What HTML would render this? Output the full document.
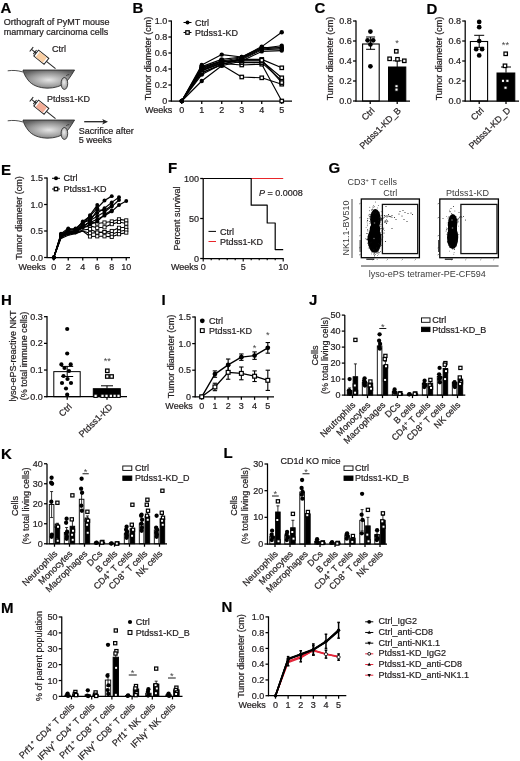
<!DOCTYPE html>
<html><head><meta charset="utf-8"><title>Figure</title>
<style>html,body{margin:0;padding:0;background:#fff}svg{display:block}text{font-family:"Liberation Sans",Arial,Helvetica,sans-serif;stroke:#231f20;stroke-width:0.22px}</style>
</head><body>
<svg width="520" height="761" viewBox="0 0 520 761">
<defs>
<radialGradient id="mg" cx="0.5" cy="0.55" r="0.6"><stop offset="0" stop-color="#e6e6e6"/><stop offset="0.6" stop-color="#9a9a9a"/><stop offset="1" stop-color="#5e5e5e"/></radialGradient>
<radialGradient id="eg" cx="0.45" cy="0.4" r="0.7"><stop offset="0" stop-color="#efefef"/><stop offset="1" stop-color="#8a8a8a"/></radialGradient>
</defs>
<rect width="520" height="761" fill="#fff"/>
<text x="0.50" y="12.90" font-size="15" font-weight="bold" fill="#000">A</text>
<text x="3.70" y="24.60" font-size="9.0" fill="#231f20">Orthograft of PyMT mouse</text>
<text x="3.70" y="35.20" font-size="9.0" fill="#231f20">mammary carcinoma cells</text>
<text x="52.00" y="52.00" font-size="9.0" fill="#231f20">Ctrl</text>
<text x="47.00" y="102.20" font-size="9.0" fill="#231f20">Ptdss1-KD</text>
<g transform="translate(0 0)">
<path d="M7.7 70.8 C13 70.2 17 70.2 23 72" fill="none" stroke="#222" stroke-width="0.8"/>
<path d="M23 70 L74.6 70 C72 74 70 78 66 82 C58 90 36 91 28 80 C25 76 23.5 73 23 70 Z" fill="url(#mg)" stroke="#222" stroke-width="0.8"/>
<ellipse cx="64.4" cy="83.5" rx="3.3" ry="6" fill="url(#eg)" stroke="#222" stroke-width="0.8"/>
<path d="M66.2 75.7 q1.2 -1 3 -1.1" fill="none" stroke="#222" stroke-width="0.7"/>
<g transform="translate(41.3 57.2) rotate(38.8)">
<rect x="-6.6" y="-3.8" width="13.2" height="7.6" fill="#fff" stroke="#222" stroke-width="1"/>
<rect x="-4.6" y="-3.3" width="9.2" height="6.6" fill="#f9cfa4"/>
<line x1="-6.6" y1="0" x2="-12.6" y2="0" stroke="#222" stroke-width="1"/>
<line x1="-12.6" y1="-2.8" x2="-12.6" y2="2.8" stroke="#222" stroke-width="1"/>
<line x1="-8.2" y1="-2.6" x2="-8.2" y2="2.6" stroke="#222" stroke-width="1"/>
<line x1="6.6" y1="0" x2="18.2" y2="0" stroke="#222" stroke-width="1"/>
</g>
</g>
<g transform="translate(0 50)">
<path d="M7.7 70.8 C13 70.2 17 70.2 23 72" fill="none" stroke="#222" stroke-width="0.8"/>
<path d="M23 70 L74.6 70 C72 74 70 78 66 82 C58 90 36 91 28 80 C25 76 23.5 73 23 70 Z" fill="url(#mg)" stroke="#222" stroke-width="0.8"/>
<ellipse cx="64.4" cy="83.5" rx="3.3" ry="6" fill="url(#eg)" stroke="#222" stroke-width="0.8"/>
<path d="M66.2 75.7 q1.2 -1 3 -1.1" fill="none" stroke="#222" stroke-width="0.7"/>
<g transform="translate(41.3 57.2) rotate(38.8)">
<rect x="-6.6" y="-3.8" width="13.2" height="7.6" fill="#fff" stroke="#222" stroke-width="1"/>
<rect x="-4.6" y="-3.3" width="9.2" height="6.6" fill="#f3ad97"/>
<line x1="-6.6" y1="0" x2="-12.6" y2="0" stroke="#222" stroke-width="1"/>
<line x1="-12.6" y1="-2.8" x2="-12.6" y2="2.8" stroke="#222" stroke-width="1"/>
<line x1="-8.2" y1="-2.6" x2="-8.2" y2="2.6" stroke="#222" stroke-width="1"/>
<line x1="6.6" y1="0" x2="18.2" y2="0" stroke="#222" stroke-width="1"/>
</g>
</g>
<line x1="84.20" y1="121.70" x2="104.00" y2="121.70" stroke="#222" stroke-width="1.3"/>
<path d="M108 121.7 L102.2 118.9 L103.6 121.7 L102.2 124.5 Z" fill="#222"/>
<text x="78.70" y="133.60" font-size="9.0" fill="#231f20">Sacrifice after</text>
<text x="78.70" y="143.40" font-size="9.0" fill="#231f20">5 weeks</text>
<text x="132.50" y="12.60" font-size="15" font-weight="bold" fill="#000">B</text>
<line x1="171.40" y1="20.50" x2="171.40" y2="101.50" stroke="#000" stroke-width="1.25"/>
<line x1="170.90" y1="101.00" x2="292.00" y2="101.00" stroke="#000" stroke-width="1.25"/>
<line x1="168.40" y1="101.00" x2="171.40" y2="101.00" stroke="#000" stroke-width="1.25"/>
<text x="167.20" y="104.10" font-size="9.0" text-anchor="end" fill="#231f20">0</text>
<line x1="168.40" y1="85.00" x2="171.40" y2="85.00" stroke="#000" stroke-width="1.25"/>
<text x="167.20" y="88.10" font-size="9.0" text-anchor="end" fill="#231f20">0.2</text>
<line x1="168.40" y1="69.00" x2="171.40" y2="69.00" stroke="#000" stroke-width="1.25"/>
<text x="167.20" y="72.10" font-size="9.0" text-anchor="end" fill="#231f20">0.4</text>
<line x1="168.40" y1="53.00" x2="171.40" y2="53.00" stroke="#000" stroke-width="1.25"/>
<text x="167.20" y="56.10" font-size="9.0" text-anchor="end" fill="#231f20">0.6</text>
<line x1="168.40" y1="37.00" x2="171.40" y2="37.00" stroke="#000" stroke-width="1.25"/>
<text x="167.20" y="40.10" font-size="9.0" text-anchor="end" fill="#231f20">0.8</text>
<line x1="168.40" y1="21.00" x2="171.40" y2="21.00" stroke="#000" stroke-width="1.25"/>
<text x="167.20" y="24.10" font-size="9.0" text-anchor="end" fill="#231f20">1.0</text>
<line x1="181.75" y1="101.00" x2="181.75" y2="104.00" stroke="#000" stroke-width="1.25"/>
<text x="181.75" y="113.20" font-size="9.0" text-anchor="middle" fill="#231f20">0</text>
<line x1="201.75" y1="101.00" x2="201.75" y2="104.00" stroke="#000" stroke-width="1.25"/>
<text x="201.75" y="113.20" font-size="9.0" text-anchor="middle" fill="#231f20">1</text>
<line x1="221.75" y1="101.00" x2="221.75" y2="104.00" stroke="#000" stroke-width="1.25"/>
<text x="221.75" y="113.20" font-size="9.0" text-anchor="middle" fill="#231f20">2</text>
<line x1="241.75" y1="101.00" x2="241.75" y2="104.00" stroke="#000" stroke-width="1.25"/>
<text x="241.75" y="113.20" font-size="9.0" text-anchor="middle" fill="#231f20">3</text>
<line x1="261.75" y1="101.00" x2="261.75" y2="104.00" stroke="#000" stroke-width="1.25"/>
<text x="261.75" y="113.20" font-size="9.0" text-anchor="middle" fill="#231f20">4</text>
<line x1="281.75" y1="101.00" x2="281.75" y2="104.00" stroke="#000" stroke-width="1.25"/>
<text x="281.75" y="113.20" font-size="9.0" text-anchor="middle" fill="#231f20">5</text>
<text x="150.80" y="58.50" font-size="9.0" text-anchor="middle" transform="rotate(-90 150.80 58.50)" fill="#231f20">Tumor diameter (cm)</text>
<text x="145.00" y="113.20" font-size="9.0" fill="#231f20">Weeks</text>
<polyline points="181.75,101.00 201.75,72.20 221.75,65.00 241.75,77.00 261.75,77.80 281.75,84.20" fill="none" stroke="#000" stroke-width="1.15" stroke-linejoin="round"/>
<polyline points="181.75,101.00 201.75,70.60 221.75,63.40 241.75,65.00 261.75,64.20 281.75,101.00" fill="none" stroke="#000" stroke-width="1.15" stroke-linejoin="round"/>
<polyline points="181.75,101.00 201.75,69.00 221.75,61.00 241.75,62.60 261.75,62.60 281.75,80.60" fill="none" stroke="#000" stroke-width="1.15" stroke-linejoin="round"/>
<polyline points="181.75,101.00 201.75,67.40 221.75,61.00 241.75,61.00 261.75,61.00 281.75,77.80" fill="none" stroke="#000" stroke-width="1.15" stroke-linejoin="round"/>
<polyline points="181.75,101.00 201.75,73.00 221.75,64.20 241.75,59.40 261.75,59.40 281.75,67.80" fill="none" stroke="#000" stroke-width="1.15" stroke-linejoin="round"/>
<polyline points="181.75,101.00 201.75,69.80 221.75,61.80 241.75,60.20 261.75,60.20 281.75,82.60" fill="none" stroke="#000" stroke-width="1.15" stroke-linejoin="round"/>
<rect x="200.03" y="70.48" width="3.45" height="3.45" fill="#fff" stroke="#000" stroke-width="1.25"/>
<rect x="220.03" y="63.27" width="3.45" height="3.45" fill="#fff" stroke="#000" stroke-width="1.25"/>
<rect x="240.03" y="75.28" width="3.45" height="3.45" fill="#fff" stroke="#000" stroke-width="1.25"/>
<rect x="260.02" y="76.08" width="3.45" height="3.45" fill="#fff" stroke="#000" stroke-width="1.25"/>
<rect x="280.02" y="82.48" width="3.45" height="3.45" fill="#fff" stroke="#000" stroke-width="1.25"/>
<rect x="200.03" y="68.88" width="3.45" height="3.45" fill="#fff" stroke="#000" stroke-width="1.25"/>
<rect x="220.03" y="61.68" width="3.45" height="3.45" fill="#fff" stroke="#000" stroke-width="1.25"/>
<rect x="240.03" y="63.27" width="3.45" height="3.45" fill="#fff" stroke="#000" stroke-width="1.25"/>
<rect x="260.02" y="62.47" width="3.45" height="3.45" fill="#fff" stroke="#000" stroke-width="1.25"/>
<rect x="280.02" y="99.28" width="3.45" height="3.45" fill="#fff" stroke="#000" stroke-width="1.25"/>
<rect x="200.03" y="67.28" width="3.45" height="3.45" fill="#fff" stroke="#000" stroke-width="1.25"/>
<rect x="220.03" y="59.27" width="3.45" height="3.45" fill="#fff" stroke="#000" stroke-width="1.25"/>
<rect x="240.03" y="60.88" width="3.45" height="3.45" fill="#fff" stroke="#000" stroke-width="1.25"/>
<rect x="260.02" y="60.88" width="3.45" height="3.45" fill="#fff" stroke="#000" stroke-width="1.25"/>
<rect x="280.02" y="78.88" width="3.45" height="3.45" fill="#fff" stroke="#000" stroke-width="1.25"/>
<rect x="200.03" y="65.68" width="3.45" height="3.45" fill="#fff" stroke="#000" stroke-width="1.25"/>
<rect x="220.03" y="59.27" width="3.45" height="3.45" fill="#fff" stroke="#000" stroke-width="1.25"/>
<rect x="240.03" y="59.27" width="3.45" height="3.45" fill="#fff" stroke="#000" stroke-width="1.25"/>
<rect x="260.02" y="59.27" width="3.45" height="3.45" fill="#fff" stroke="#000" stroke-width="1.25"/>
<rect x="280.02" y="76.08" width="3.45" height="3.45" fill="#fff" stroke="#000" stroke-width="1.25"/>
<rect x="200.03" y="71.28" width="3.45" height="3.45" fill="#fff" stroke="#000" stroke-width="1.25"/>
<rect x="220.03" y="62.47" width="3.45" height="3.45" fill="#fff" stroke="#000" stroke-width="1.25"/>
<rect x="240.03" y="57.67" width="3.45" height="3.45" fill="#fff" stroke="#000" stroke-width="1.25"/>
<rect x="260.02" y="57.67" width="3.45" height="3.45" fill="#fff" stroke="#000" stroke-width="1.25"/>
<rect x="280.02" y="66.08" width="3.45" height="3.45" fill="#fff" stroke="#000" stroke-width="1.25"/>
<rect x="200.03" y="68.08" width="3.45" height="3.45" fill="#fff" stroke="#000" stroke-width="1.25"/>
<rect x="220.03" y="60.07" width="3.45" height="3.45" fill="#fff" stroke="#000" stroke-width="1.25"/>
<rect x="240.03" y="58.48" width="3.45" height="3.45" fill="#fff" stroke="#000" stroke-width="1.25"/>
<rect x="260.02" y="58.48" width="3.45" height="3.45" fill="#fff" stroke="#000" stroke-width="1.25"/>
<rect x="280.02" y="80.88" width="3.45" height="3.45" fill="#fff" stroke="#000" stroke-width="1.25"/>
<polyline points="181.75,101.00 201.75,81.00 221.75,65.80 241.75,61.00 261.75,51.40 281.75,50.60" fill="none" stroke="#000" stroke-width="1.15" stroke-linejoin="round"/>
<circle cx="181.75" cy="101.00" r="2.2" fill="#000"/>
<circle cx="201.75" cy="81.00" r="2.2" fill="#000"/>
<circle cx="221.75" cy="65.80" r="2.2" fill="#000"/>
<circle cx="241.75" cy="61.00" r="2.2" fill="#000"/>
<circle cx="261.75" cy="51.40" r="2.2" fill="#000"/>
<circle cx="281.75" cy="50.60" r="2.2" fill="#000"/>
<polyline points="181.75,101.00 201.75,74.60 221.75,64.20 241.75,59.40 261.75,49.80 281.75,49.00" fill="none" stroke="#000" stroke-width="1.15" stroke-linejoin="round"/>
<circle cx="181.75" cy="101.00" r="2.2" fill="#000"/>
<circle cx="201.75" cy="74.60" r="2.2" fill="#000"/>
<circle cx="221.75" cy="64.20" r="2.2" fill="#000"/>
<circle cx="241.75" cy="59.40" r="2.2" fill="#000"/>
<circle cx="261.75" cy="49.80" r="2.2" fill="#000"/>
<circle cx="281.75" cy="49.00" r="2.2" fill="#000"/>
<polyline points="181.75,101.00 201.75,70.60 221.75,62.60 241.75,58.60 261.75,49.00 281.75,47.40" fill="none" stroke="#000" stroke-width="1.15" stroke-linejoin="round"/>
<circle cx="181.75" cy="101.00" r="2.2" fill="#000"/>
<circle cx="201.75" cy="70.60" r="2.2" fill="#000"/>
<circle cx="221.75" cy="62.60" r="2.2" fill="#000"/>
<circle cx="241.75" cy="58.60" r="2.2" fill="#000"/>
<circle cx="261.75" cy="49.00" r="2.2" fill="#000"/>
<circle cx="281.75" cy="47.40" r="2.2" fill="#000"/>
<polyline points="181.75,101.00 201.75,68.20 221.75,61.00 241.75,57.80 261.75,48.20 281.75,45.80" fill="none" stroke="#000" stroke-width="1.15" stroke-linejoin="round"/>
<circle cx="181.75" cy="101.00" r="2.2" fill="#000"/>
<circle cx="201.75" cy="68.20" r="2.2" fill="#000"/>
<circle cx="221.75" cy="61.00" r="2.2" fill="#000"/>
<circle cx="241.75" cy="57.80" r="2.2" fill="#000"/>
<circle cx="261.75" cy="48.20" r="2.2" fill="#000"/>
<circle cx="281.75" cy="45.80" r="2.2" fill="#000"/>
<polyline points="181.75,101.00 201.75,66.60 221.75,59.40 241.75,57.00 261.75,47.40 281.75,48.20" fill="none" stroke="#000" stroke-width="1.15" stroke-linejoin="round"/>
<circle cx="181.75" cy="101.00" r="2.2" fill="#000"/>
<circle cx="201.75" cy="66.60" r="2.2" fill="#000"/>
<circle cx="221.75" cy="59.40" r="2.2" fill="#000"/>
<circle cx="241.75" cy="57.00" r="2.2" fill="#000"/>
<circle cx="261.75" cy="47.40" r="2.2" fill="#000"/>
<circle cx="281.75" cy="48.20" r="2.2" fill="#000"/>
<polyline points="181.75,101.00 201.75,65.00 221.75,54.60 241.75,57.00 261.75,46.60 281.75,32.20" fill="none" stroke="#000" stroke-width="1.15" stroke-linejoin="round"/>
<circle cx="181.75" cy="101.00" r="2.2" fill="#000"/>
<circle cx="201.75" cy="65.00" r="2.2" fill="#000"/>
<circle cx="221.75" cy="54.60" r="2.2" fill="#000"/>
<circle cx="241.75" cy="57.00" r="2.2" fill="#000"/>
<circle cx="261.75" cy="46.60" r="2.2" fill="#000"/>
<circle cx="281.75" cy="32.20" r="2.2" fill="#000"/>
<line x1="183.50" y1="22.50" x2="191.50" y2="22.50" stroke="#000" stroke-width="1"/>
<circle cx="187.50" cy="22.50" r="2" fill="#000"/>
<text x="195.00" y="25.60" font-size="9.0" fill="#231f20">Ctrl</text>
<line x1="183.50" y1="32.50" x2="191.50" y2="32.50" stroke="#000" stroke-width="1"/>
<rect x="185.78" y="30.77" width="3.45" height="3.45" fill="#fff" stroke="#000" stroke-width="1.25"/>
<text x="195.00" y="35.70" font-size="9.0" fill="#231f20">Ptdss1-KD</text>
<text x="314.50" y="12.60" font-size="15" font-weight="bold" fill="#000">C</text>
<rect x="362.60" y="44.00" width="16.60" height="57.00" fill="#fff" stroke="#000" stroke-width="1.1"/>
<rect x="388.50" y="67.00" width="17.30" height="34.00" fill="#000" stroke="#000" stroke-width="1"/>
<line x1="356.00" y1="20.50" x2="356.00" y2="101.50" stroke="#000" stroke-width="1.25"/>
<line x1="355.50" y1="101.00" x2="410.00" y2="101.00" stroke="#000" stroke-width="1.25"/>
<line x1="353.00" y1="101.00" x2="356.00" y2="101.00" stroke="#000" stroke-width="1.25"/>
<text x="351.80" y="104.10" font-size="9.0" text-anchor="end" fill="#231f20">0.0</text>
<line x1="353.00" y1="81.00" x2="356.00" y2="81.00" stroke="#000" stroke-width="1.25"/>
<text x="351.80" y="84.10" font-size="9.0" text-anchor="end" fill="#231f20">0.2</text>
<line x1="353.00" y1="61.00" x2="356.00" y2="61.00" stroke="#000" stroke-width="1.25"/>
<text x="351.80" y="64.10" font-size="9.0" text-anchor="end" fill="#231f20">0.4</text>
<line x1="353.00" y1="41.00" x2="356.00" y2="41.00" stroke="#000" stroke-width="1.25"/>
<text x="351.80" y="44.10" font-size="9.0" text-anchor="end" fill="#231f20">0.6</text>
<line x1="353.00" y1="21.00" x2="356.00" y2="21.00" stroke="#000" stroke-width="1.25"/>
<text x="351.80" y="24.10" font-size="9.0" text-anchor="end" fill="#231f20">0.8</text>
<line x1="370.20" y1="101.00" x2="370.20" y2="104.00" stroke="#000" stroke-width="1.25"/>
<line x1="397.20" y1="101.00" x2="397.20" y2="104.00" stroke="#000" stroke-width="1.25"/>
<text x="333.20" y="58.50" font-size="9.0" text-anchor="middle" transform="rotate(-90 333.20 58.50)" fill="#231f20">Tumor diameter (cm)</text>
<line x1="370.60" y1="37.00" x2="370.60" y2="49.30" stroke="#000" stroke-width="1"/>
<line x1="366.10" y1="37.00" x2="375.10" y2="37.00" stroke="#000" stroke-width="1"/>
<line x1="366.10" y1="49.30" x2="375.10" y2="49.30" stroke="#000" stroke-width="1"/>
<line x1="397.20" y1="60.80" x2="397.20" y2="67.00" stroke="#000" stroke-width="1"/>
<line x1="392.70" y1="60.80" x2="401.70" y2="60.80" stroke="#000" stroke-width="1"/>
<circle cx="370.40" cy="31.60" r="2.35" fill="#000"/>
<circle cx="367.60" cy="40.30" r="2.35" fill="#000"/>
<circle cx="373.20" cy="40.30" r="2.35" fill="#000"/>
<circle cx="370.40" cy="44.50" r="2.35" fill="#000"/>
<circle cx="370.40" cy="66.30" r="2.35" fill="#000"/>
<rect x="394.57" y="49.57" width="3.45" height="3.45" fill="#fff" stroke="#000" stroke-width="1.25"/>
<rect x="387.88" y="57.07" width="3.45" height="3.45" fill="#fff" stroke="#000" stroke-width="1.25"/>
<rect x="395.77" y="57.57" width="3.45" height="3.45" fill="#fff" stroke="#000" stroke-width="1.25"/>
<rect x="402.57" y="59.07" width="3.45" height="3.45" fill="#fff" stroke="#000" stroke-width="1.25"/>
<rect x="394.90" y="84.70" width="3.2" height="3.2" fill="#fff" stroke="#000" stroke-width="1.0"/>
<rect x="394.90" y="88.00" width="3.2" height="3.2" fill="#fff" stroke="#000" stroke-width="1.0"/>
<text x="397.00" y="45.80" font-size="9.4" text-anchor="middle" fill="#444" style="stroke:none">*</text>
<text x="375.20" y="111.20" font-size="9.0" text-anchor="end" transform="rotate(-45 375.20 111.20)" fill="#231f20">Ctrl</text>
<text x="401.50" y="111.20" font-size="9.0" text-anchor="end" transform="rotate(-45 401.50 111.20)" fill="#231f20">Ptdss1-KD_B</text>
<text x="426.50" y="13.70" font-size="15" font-weight="bold" fill="#000">D</text>
<rect x="470.40" y="41.50" width="17.20" height="59.50" fill="#fff" stroke="#000" stroke-width="1.1"/>
<rect x="497.00" y="73.00" width="17.80" height="28.00" fill="#000" stroke="#000" stroke-width="1"/>
<line x1="465.20" y1="20.50" x2="465.20" y2="101.50" stroke="#000" stroke-width="1.25"/>
<line x1="464.70" y1="101.00" x2="519.00" y2="101.00" stroke="#000" stroke-width="1.25"/>
<line x1="462.20" y1="101.00" x2="465.20" y2="101.00" stroke="#000" stroke-width="1.25"/>
<text x="461.00" y="104.10" font-size="9.0" text-anchor="end" fill="#231f20">0.0</text>
<line x1="462.20" y1="81.00" x2="465.20" y2="81.00" stroke="#000" stroke-width="1.25"/>
<text x="461.00" y="84.10" font-size="9.0" text-anchor="end" fill="#231f20">0.2</text>
<line x1="462.20" y1="61.00" x2="465.20" y2="61.00" stroke="#000" stroke-width="1.25"/>
<text x="461.00" y="64.10" font-size="9.0" text-anchor="end" fill="#231f20">0.4</text>
<line x1="462.20" y1="41.00" x2="465.20" y2="41.00" stroke="#000" stroke-width="1.25"/>
<text x="461.00" y="44.10" font-size="9.0" text-anchor="end" fill="#231f20">0.6</text>
<line x1="462.20" y1="21.00" x2="465.20" y2="21.00" stroke="#000" stroke-width="1.25"/>
<text x="461.00" y="24.10" font-size="9.0" text-anchor="end" fill="#231f20">0.8</text>
<line x1="479.20" y1="101.00" x2="479.20" y2="104.00" stroke="#000" stroke-width="1.25"/>
<line x1="506.00" y1="101.00" x2="506.00" y2="104.00" stroke="#000" stroke-width="1.25"/>
<text x="442.40" y="58.50" font-size="9.0" text-anchor="middle" transform="rotate(-90 442.40 58.50)" fill="#231f20">Tumor diameter (cm)</text>
<line x1="479.20" y1="35.30" x2="479.20" y2="47.30" stroke="#000" stroke-width="1"/>
<line x1="474.20" y1="35.30" x2="484.20" y2="35.30" stroke="#000" stroke-width="1"/>
<line x1="474.20" y1="47.30" x2="484.20" y2="47.30" stroke="#000" stroke-width="1"/>
<line x1="506.00" y1="67.00" x2="506.00" y2="72.70" stroke="#000" stroke-width="1"/>
<line x1="501.00" y1="67.00" x2="511.00" y2="67.00" stroke="#000" stroke-width="1"/>
<circle cx="479.20" cy="21.90" r="2.35" fill="#000"/>
<circle cx="479.20" cy="27.20" r="2.35" fill="#000"/>
<circle cx="479.20" cy="41.00" r="2.35" fill="#000"/>
<circle cx="476.20" cy="49.20" r="2.35" fill="#000"/>
<circle cx="482.10" cy="49.20" r="2.35" fill="#000"/>
<circle cx="479.20" cy="55.40" r="2.35" fill="#000"/>
<rect x="503.97" y="52.07" width="3.45" height="3.45" fill="#fff" stroke="#000" stroke-width="1.25"/>
<rect x="503.27" y="64.08" width="3.45" height="3.45" fill="#fff" stroke="#000" stroke-width="1.25"/>
<rect x="501.40" y="79.20" width="3.2" height="3.2" fill="#fff" stroke="#000" stroke-width="1.0"/>
<rect x="505.80" y="79.20" width="3.2" height="3.2" fill="#fff" stroke="#000" stroke-width="1.0"/>
<rect x="503.90" y="86.10" width="3.2" height="3.2" fill="#fff" stroke="#000" stroke-width="1.0"/>
<text x="505.50" y="47.80" font-size="9.4" text-anchor="middle" fill="#444" style="stroke:none">**</text>
<text x="484.50" y="111.00" font-size="9.0" text-anchor="end" transform="rotate(-45 484.50 111.00)" fill="#231f20">Ctrl</text>
<text x="511.00" y="111.00" font-size="9.0" text-anchor="end" transform="rotate(-45 511.00 111.00)" fill="#231f20">Ptdss1-KD_D</text>
<text x="1.00" y="175.00" font-size="15" font-weight="bold" fill="#000">E</text>
<line x1="47.10" y1="177.50" x2="47.10" y2="258.00" stroke="#000" stroke-width="1.25"/>
<line x1="46.60" y1="257.50" x2="130.00" y2="257.50" stroke="#000" stroke-width="1.25"/>
<line x1="44.10" y1="257.50" x2="47.10" y2="257.50" stroke="#000" stroke-width="1.25"/>
<text x="42.90" y="260.60" font-size="9.0" text-anchor="end" fill="#231f20">0.0</text>
<line x1="44.10" y1="231.00" x2="47.10" y2="231.00" stroke="#000" stroke-width="1.25"/>
<text x="42.90" y="234.10" font-size="9.0" text-anchor="end" fill="#231f20">0.5</text>
<line x1="44.10" y1="204.50" x2="47.10" y2="204.50" stroke="#000" stroke-width="1.25"/>
<text x="42.90" y="207.60" font-size="9.0" text-anchor="end" fill="#231f20">1.0</text>
<line x1="44.10" y1="178.00" x2="47.10" y2="178.00" stroke="#000" stroke-width="1.25"/>
<text x="42.90" y="181.10" font-size="9.0" text-anchor="end" fill="#231f20">1.5</text>
<line x1="53.75" y1="257.50" x2="53.75" y2="260.50" stroke="#000" stroke-width="1.25"/>
<text x="53.75" y="269.70" font-size="9.0" text-anchor="middle" fill="#231f20">0</text>
<line x1="68.25" y1="257.50" x2="68.25" y2="260.50" stroke="#000" stroke-width="1.25"/>
<text x="68.25" y="269.70" font-size="9.0" text-anchor="middle" fill="#231f20">2</text>
<line x1="82.75" y1="257.50" x2="82.75" y2="260.50" stroke="#000" stroke-width="1.25"/>
<text x="82.75" y="269.70" font-size="9.0" text-anchor="middle" fill="#231f20">4</text>
<line x1="97.25" y1="257.50" x2="97.25" y2="260.50" stroke="#000" stroke-width="1.25"/>
<text x="97.25" y="269.70" font-size="9.0" text-anchor="middle" fill="#231f20">6</text>
<line x1="111.75" y1="257.50" x2="111.75" y2="260.50" stroke="#000" stroke-width="1.25"/>
<text x="111.75" y="269.70" font-size="9.0" text-anchor="middle" fill="#231f20">8</text>
<line x1="126.25" y1="257.50" x2="126.25" y2="260.50" stroke="#000" stroke-width="1.25"/>
<text x="126.25" y="269.70" font-size="9.0" text-anchor="middle" fill="#231f20">10</text>
<text x="22.00" y="218.00" font-size="9.0" text-anchor="middle" transform="rotate(-90 22.00 218.00)" fill="#231f20">Tumor diameter (cm)</text>
<text x="18.40" y="269.70" font-size="9.0" fill="#231f20">Weeks</text>
<polyline points="53.75,257.50 61.00,235.24 68.25,231.00 75.50,231.00 82.75,226.76 90.00,221.78 97.25,223.58 104.50,222.52 111.75,221.46 119.00,219.34 126.25,220.40" fill="none" stroke="#000" stroke-width="1.1" stroke-linejoin="round"/>
<polyline points="53.75,257.50 61.00,236.30 68.25,233.12 75.50,231.00 82.75,227.82 90.00,225.86 97.25,227.82 104.50,227.29 111.75,224.11 119.00,221.99 126.25,223.58" fill="none" stroke="#000" stroke-width="1.1" stroke-linejoin="round"/>
<polyline points="53.75,257.50 61.00,237.36 68.25,234.18 75.50,232.59 82.75,229.94 90.00,229.15 97.25,232.59 104.50,232.06 111.75,231.00 119.00,227.82 126.25,227.29" fill="none" stroke="#000" stroke-width="1.1" stroke-linejoin="round"/>
<polyline points="53.75,257.50 61.00,235.77 68.25,233.65 75.50,233.12 82.75,231.00 90.00,233.23 97.25,232.59 104.50,232.06 111.75,234.18 119.00,231.53 126.25,229.94" fill="none" stroke="#000" stroke-width="1.1" stroke-linejoin="round"/>
<polyline points="53.75,257.50 61.00,238.42 68.25,235.24 75.50,233.65 82.75,231.00 90.00,236.46 97.25,236.30 104.50,236.30 111.75,236.83 119.00,234.18 126.25,232.59" fill="none" stroke="#000" stroke-width="1.1" stroke-linejoin="round"/>
<rect x="88.40" y="220.18" width="3.2" height="3.2" fill="#fff" stroke="#000" stroke-width="0.9"/>
<rect x="95.65" y="221.98" width="3.2" height="3.2" fill="#fff" stroke="#000" stroke-width="0.9"/>
<rect x="102.90" y="220.92" width="3.2" height="3.2" fill="#fff" stroke="#000" stroke-width="0.9"/>
<rect x="110.15" y="219.86" width="3.2" height="3.2" fill="#fff" stroke="#000" stroke-width="0.9"/>
<rect x="117.40" y="217.74" width="3.2" height="3.2" fill="#fff" stroke="#000" stroke-width="0.9"/>
<rect x="124.65" y="218.80" width="3.2" height="3.2" fill="#fff" stroke="#000" stroke-width="0.9"/>
<rect x="88.40" y="224.26" width="3.2" height="3.2" fill="#fff" stroke="#000" stroke-width="0.9"/>
<rect x="95.65" y="226.22" width="3.2" height="3.2" fill="#fff" stroke="#000" stroke-width="0.9"/>
<rect x="102.90" y="225.69" width="3.2" height="3.2" fill="#fff" stroke="#000" stroke-width="0.9"/>
<rect x="110.15" y="222.51" width="3.2" height="3.2" fill="#fff" stroke="#000" stroke-width="0.9"/>
<rect x="117.40" y="220.39" width="3.2" height="3.2" fill="#fff" stroke="#000" stroke-width="0.9"/>
<rect x="124.65" y="221.98" width="3.2" height="3.2" fill="#fff" stroke="#000" stroke-width="0.9"/>
<rect x="88.40" y="227.55" width="3.2" height="3.2" fill="#fff" stroke="#000" stroke-width="0.9"/>
<rect x="95.65" y="230.99" width="3.2" height="3.2" fill="#fff" stroke="#000" stroke-width="0.9"/>
<rect x="102.90" y="230.46" width="3.2" height="3.2" fill="#fff" stroke="#000" stroke-width="0.9"/>
<rect x="110.15" y="229.40" width="3.2" height="3.2" fill="#fff" stroke="#000" stroke-width="0.9"/>
<rect x="117.40" y="226.22" width="3.2" height="3.2" fill="#fff" stroke="#000" stroke-width="0.9"/>
<rect x="124.65" y="225.69" width="3.2" height="3.2" fill="#fff" stroke="#000" stroke-width="0.9"/>
<rect x="88.40" y="231.63" width="3.2" height="3.2" fill="#fff" stroke="#000" stroke-width="0.9"/>
<rect x="95.65" y="230.99" width="3.2" height="3.2" fill="#fff" stroke="#000" stroke-width="0.9"/>
<rect x="102.90" y="230.46" width="3.2" height="3.2" fill="#fff" stroke="#000" stroke-width="0.9"/>
<rect x="110.15" y="232.58" width="3.2" height="3.2" fill="#fff" stroke="#000" stroke-width="0.9"/>
<rect x="117.40" y="229.93" width="3.2" height="3.2" fill="#fff" stroke="#000" stroke-width="0.9"/>
<rect x="124.65" y="228.34" width="3.2" height="3.2" fill="#fff" stroke="#000" stroke-width="0.9"/>
<rect x="88.40" y="234.86" width="3.2" height="3.2" fill="#fff" stroke="#000" stroke-width="0.9"/>
<rect x="95.65" y="234.70" width="3.2" height="3.2" fill="#fff" stroke="#000" stroke-width="0.9"/>
<rect x="102.90" y="234.70" width="3.2" height="3.2" fill="#fff" stroke="#000" stroke-width="0.9"/>
<rect x="110.15" y="235.23" width="3.2" height="3.2" fill="#fff" stroke="#000" stroke-width="0.9"/>
<rect x="117.40" y="232.58" width="3.2" height="3.2" fill="#fff" stroke="#000" stroke-width="0.9"/>
<rect x="124.65" y="230.99" width="3.2" height="3.2" fill="#fff" stroke="#000" stroke-width="0.9"/>
<polyline points="53.75,257.50 61.00,234.71 68.25,231.00 75.50,231.00 82.75,224.64 90.00,215.10 97.25,205.03" fill="none" stroke="#000" stroke-width="1.2" stroke-linejoin="round"/>
<circle cx="53.75" cy="257.50" r="1.95" fill="#000"/>
<circle cx="61.00" cy="234.71" r="1.95" fill="#000"/>
<circle cx="68.25" cy="231.00" r="1.95" fill="#000"/>
<circle cx="75.50" cy="231.00" r="1.95" fill="#000"/>
<circle cx="82.75" cy="224.64" r="1.95" fill="#000"/>
<circle cx="90.00" cy="215.10" r="1.95" fill="#000"/>
<circle cx="97.25" cy="205.03" r="1.95" fill="#000"/>
<polyline points="53.75,257.50 61.00,233.65 68.25,228.35 75.50,229.94 82.75,221.46 90.00,216.16 97.25,208.21 104.50,200.53 111.75,196.13" fill="none" stroke="#000" stroke-width="1.2" stroke-linejoin="round"/>
<circle cx="53.75" cy="257.50" r="1.95" fill="#000"/>
<circle cx="61.00" cy="233.65" r="1.95" fill="#000"/>
<circle cx="68.25" cy="228.35" r="1.95" fill="#000"/>
<circle cx="75.50" cy="229.94" r="1.95" fill="#000"/>
<circle cx="82.75" cy="221.46" r="1.95" fill="#000"/>
<circle cx="90.00" cy="216.16" r="1.95" fill="#000"/>
<circle cx="97.25" cy="208.21" r="1.95" fill="#000"/>
<circle cx="104.50" cy="200.53" r="1.95" fill="#000"/>
<circle cx="111.75" cy="196.13" r="1.95" fill="#000"/>
<polyline points="53.75,257.50 61.00,235.24 68.25,231.00 75.50,231.00 82.75,223.58 90.00,218.28 97.25,212.98 104.50,208.21 111.75,202.38 119.00,197.24" fill="none" stroke="#000" stroke-width="1.2" stroke-linejoin="round"/>
<circle cx="53.75" cy="257.50" r="1.95" fill="#000"/>
<circle cx="61.00" cy="235.24" r="1.95" fill="#000"/>
<circle cx="68.25" cy="231.00" r="1.95" fill="#000"/>
<circle cx="75.50" cy="231.00" r="1.95" fill="#000"/>
<circle cx="82.75" cy="223.58" r="1.95" fill="#000"/>
<circle cx="90.00" cy="218.28" r="1.95" fill="#000"/>
<circle cx="97.25" cy="212.98" r="1.95" fill="#000"/>
<circle cx="104.50" cy="208.21" r="1.95" fill="#000"/>
<circle cx="111.75" cy="202.38" r="1.95" fill="#000"/>
<circle cx="119.00" cy="197.24" r="1.95" fill="#000"/>
<polyline points="53.75,257.50 61.00,234.18 68.25,229.94 75.50,228.35 82.75,222.52 90.00,220.40 97.25,216.16 104.50,211.92 111.75,206.62 119.00,200.05" fill="none" stroke="#000" stroke-width="1.2" stroke-linejoin="round"/>
<circle cx="53.75" cy="257.50" r="1.95" fill="#000"/>
<circle cx="61.00" cy="234.18" r="1.95" fill="#000"/>
<circle cx="68.25" cy="229.94" r="1.95" fill="#000"/>
<circle cx="75.50" cy="228.35" r="1.95" fill="#000"/>
<circle cx="82.75" cy="222.52" r="1.95" fill="#000"/>
<circle cx="90.00" cy="220.40" r="1.95" fill="#000"/>
<circle cx="97.25" cy="216.16" r="1.95" fill="#000"/>
<circle cx="104.50" cy="211.92" r="1.95" fill="#000"/>
<circle cx="111.75" cy="206.62" r="1.95" fill="#000"/>
<circle cx="119.00" cy="200.05" r="1.95" fill="#000"/>
<polyline points="53.75,257.50 61.00,236.30 68.25,232.06 75.50,231.00 82.75,225.70 90.00,222.52 97.25,219.34 104.50,215.63 111.75,211.39 119.00,205.03 126.25,201.00" fill="none" stroke="#000" stroke-width="1.2" stroke-linejoin="round"/>
<circle cx="53.75" cy="257.50" r="1.95" fill="#000"/>
<circle cx="61.00" cy="236.30" r="1.95" fill="#000"/>
<circle cx="68.25" cy="232.06" r="1.95" fill="#000"/>
<circle cx="75.50" cy="231.00" r="1.95" fill="#000"/>
<circle cx="82.75" cy="225.70" r="1.95" fill="#000"/>
<circle cx="90.00" cy="222.52" r="1.95" fill="#000"/>
<circle cx="97.25" cy="219.34" r="1.95" fill="#000"/>
<circle cx="104.50" cy="215.63" r="1.95" fill="#000"/>
<circle cx="111.75" cy="211.39" r="1.95" fill="#000"/>
<circle cx="119.00" cy="205.03" r="1.95" fill="#000"/>
<circle cx="126.25" cy="201.00" r="1.95" fill="#000"/>
<polyline points="53.75,257.50 61.00,235.77 68.25,232.59 75.50,232.06 82.75,226.76 90.00,221.46 97.25,209.80 104.50,210.59 111.75,205.56" fill="none" stroke="#000" stroke-width="1.2" stroke-linejoin="round"/>
<circle cx="53.75" cy="257.50" r="1.95" fill="#000"/>
<circle cx="61.00" cy="235.77" r="1.95" fill="#000"/>
<circle cx="68.25" cy="232.59" r="1.95" fill="#000"/>
<circle cx="75.50" cy="232.06" r="1.95" fill="#000"/>
<circle cx="82.75" cy="226.76" r="1.95" fill="#000"/>
<circle cx="90.00" cy="221.46" r="1.95" fill="#000"/>
<circle cx="97.25" cy="209.80" r="1.95" fill="#000"/>
<circle cx="104.50" cy="210.59" r="1.95" fill="#000"/>
<circle cx="111.75" cy="205.56" r="1.95" fill="#000"/>
<polyline points="53.75,257.50 61.00,236.83 68.25,233.65 75.50,232.59 82.75,227.82 90.00,224.64 97.25,221.46 104.50,214.57 111.75,210.33" fill="none" stroke="#000" stroke-width="1.2" stroke-linejoin="round"/>
<circle cx="53.75" cy="257.50" r="1.95" fill="#000"/>
<circle cx="61.00" cy="236.83" r="1.95" fill="#000"/>
<circle cx="68.25" cy="233.65" r="1.95" fill="#000"/>
<circle cx="75.50" cy="232.59" r="1.95" fill="#000"/>
<circle cx="82.75" cy="227.82" r="1.95" fill="#000"/>
<circle cx="90.00" cy="224.64" r="1.95" fill="#000"/>
<circle cx="97.25" cy="221.46" r="1.95" fill="#000"/>
<circle cx="104.50" cy="214.57" r="1.95" fill="#000"/>
<circle cx="111.75" cy="210.33" r="1.95" fill="#000"/>
<line x1="52.00" y1="178.30" x2="60.00" y2="178.30" stroke="#000" stroke-width="1"/>
<circle cx="56.00" cy="178.30" r="2" fill="#000"/>
<text x="63.50" y="181.40" font-size="9.0" fill="#231f20">Ctrl</text>
<line x1="52.00" y1="189.00" x2="60.00" y2="189.00" stroke="#000" stroke-width="1"/>
<rect x="54.27" y="187.28" width="3.45" height="3.45" fill="#fff" stroke="#000" stroke-width="1.25"/>
<text x="63.50" y="192.10" font-size="9.0" fill="#231f20">Ptdss1-KD</text>
<text x="168.00" y="172.80" font-size="15" font-weight="bold" fill="#000">F</text>
<line x1="203.20" y1="178.00" x2="203.20" y2="259.00" stroke="#000" stroke-width="1.25"/>
<line x1="202.70" y1="258.50" x2="283.70" y2="258.50" stroke="#000" stroke-width="1.25"/>
<line x1="200.20" y1="258.50" x2="203.20" y2="258.50" stroke="#000" stroke-width="1.25"/>
<text x="199.00" y="261.60" font-size="9.0" text-anchor="end" fill="#231f20">0</text>
<line x1="200.20" y1="218.50" x2="203.20" y2="218.50" stroke="#000" stroke-width="1.25"/>
<text x="199.00" y="221.60" font-size="9.0" text-anchor="end" fill="#231f20">50</text>
<line x1="200.20" y1="178.50" x2="203.20" y2="178.50" stroke="#000" stroke-width="1.25"/>
<text x="199.00" y="181.60" font-size="9.0" text-anchor="end" fill="#231f20">100</text>
<line x1="203.20" y1="258.50" x2="203.20" y2="261.50" stroke="#000" stroke-width="1.1"/>
<line x1="211.20" y1="258.50" x2="211.20" y2="260.30" stroke="#000" stroke-width="1.1"/>
<line x1="219.20" y1="258.50" x2="219.20" y2="260.30" stroke="#000" stroke-width="1.1"/>
<line x1="227.20" y1="258.50" x2="227.20" y2="260.30" stroke="#000" stroke-width="1.1"/>
<line x1="235.20" y1="258.50" x2="235.20" y2="260.30" stroke="#000" stroke-width="1.1"/>
<line x1="243.20" y1="258.50" x2="243.20" y2="261.50" stroke="#000" stroke-width="1.1"/>
<line x1="251.20" y1="258.50" x2="251.20" y2="260.30" stroke="#000" stroke-width="1.1"/>
<line x1="259.20" y1="258.50" x2="259.20" y2="260.30" stroke="#000" stroke-width="1.1"/>
<line x1="267.20" y1="258.50" x2="267.20" y2="260.30" stroke="#000" stroke-width="1.1"/>
<line x1="275.20" y1="258.50" x2="275.20" y2="260.30" stroke="#000" stroke-width="1.1"/>
<line x1="283.20" y1="258.50" x2="283.20" y2="261.50" stroke="#000" stroke-width="1.1"/>
<text x="203.20" y="270.20" font-size="9.0" text-anchor="middle" fill="#231f20">0</text>
<text x="243.20" y="270.20" font-size="9.0" text-anchor="middle" fill="#231f20">5</text>
<text x="283.20" y="270.20" font-size="9.0" text-anchor="middle" fill="#231f20">10</text>
<text x="171.00" y="270.20" font-size="9.0" fill="#231f20">Weeks</text>
<text x="180.00" y="218.50" font-size="9.0" text-anchor="middle" transform="rotate(-90 180.00 218.50)" fill="#231f20">Percent survival</text>
<polyline points="203.20,178.50 283.20,178.50" fill="none" stroke="#e8262a" stroke-width="1.2" stroke-linejoin="round"/>
<polyline points="203.20,178.50 251.20,178.50 251.20,205.14 267.20,205.14 267.20,222.98 275.20,222.98 275.20,249.62 283.20,249.62" fill="none" stroke="#000" stroke-width="1.2" stroke-linejoin="round"/>
<text x="259.00" y="196.00" font-size="9.0" fill="#231f20"><tspan font-style="italic">P</tspan> = 0.0008</text>
<line x1="208.50" y1="231.40" x2="216.00" y2="231.40" stroke="#000" stroke-width="1"/>
<text x="220.00" y="234.50" font-size="9.0" fill="#231f20">Ctrl</text>
<line x1="208.50" y1="241.50" x2="216.00" y2="241.50" stroke="#e8262a" stroke-width="1"/>
<text x="220.00" y="244.60" font-size="9.0" fill="#231f20">Ptdss1-KD</text>
<text x="328.50" y="172.80" font-size="15" font-weight="bold" fill="#000">G</text>
<text x="347.50" y="184.80" font-size="9.0" fill="#3a3a3a" style="stroke:none">CD3<tspan font-size="5.5" dy="-3">+</tspan><tspan dy="3"> T cells</tspan></text>
<text x="390.20" y="196.00" font-size="9.0" text-anchor="middle" fill="#3a3a3a" style="stroke:none">Ctrl</text>
<text x="467.50" y="196.00" font-size="9.0" text-anchor="middle" fill="#3a3a3a" style="stroke:none">Ptdss1-KD</text>
<text x="348.60" y="228.00" font-size="9.0" text-anchor="middle" transform="rotate(-90 348.60 228.00)" fill="#3a3a3a" style="stroke:none">NK1.1-BV510</text>
<line x1="352.00" y1="199.00" x2="352.00" y2="258.00" stroke="#222" stroke-width="0.8"/>
<line x1="361.00" y1="266.00" x2="498.60" y2="266.00" stroke="#222" stroke-width="0.9"/>
<text x="427.30" y="277.30" font-size="9.0" text-anchor="middle" fill="#3a3a3a" style="stroke:none">lyso-ePS tetramer-PE-CF594</text>
<rect x="361.30" y="199.00" width="58.10" height="58.70" fill="#fff" stroke="#000" stroke-width="1.3"/>
<rect x="382.40" y="204.40" width="35.30" height="49.20" fill="#fff" stroke="#111" stroke-width="1.3"/>
<line x1="359.10" y1="204.00" x2="360.70" y2="203.20" stroke="#333" stroke-width="0.6"/>
<line x1="359.10" y1="218.00" x2="360.70" y2="217.20" stroke="#333" stroke-width="0.6"/>
<line x1="359.10" y1="236.00" x2="360.70" y2="235.20" stroke="#333" stroke-width="0.6"/>
<line x1="359.10" y1="248.00" x2="360.70" y2="247.20" stroke="#333" stroke-width="0.6"/>
<line x1="359.10" y1="255.00" x2="360.70" y2="254.20" stroke="#333" stroke-width="0.6"/>
<line x1="372.70" y1="260.20" x2="373.90" y2="259.00" stroke="#333" stroke-width="0.6"/>
<line x1="386.70" y1="260.20" x2="387.90" y2="259.00" stroke="#333" stroke-width="0.6"/>
<line x1="401.70" y1="260.20" x2="402.90" y2="259.00" stroke="#333" stroke-width="0.6"/>
<line x1="414.70" y1="260.20" x2="415.90" y2="259.00" stroke="#333" stroke-width="0.6"/>
<line x1="366.30" y1="259.20" x2="374.30" y2="259.20" stroke="#111" stroke-width="1.2"/>
<line x1="360.10" y1="240.00" x2="360.10" y2="252.00" stroke="#222" stroke-width="0.9"/>
<ellipse cx="374.6" cy="239.6" rx="6.9" ry="13.2" fill="#000"/><ellipse cx="375" cy="229" rx="5.3" ry="6" fill="#000"/><ellipse cx="375.4" cy="219.3" rx="5.3" ry="10.3" fill="#000"/><circle cx="369.6" cy="235.8" r="0.45" fill="#111"/><circle cx="368.3" cy="235.3" r="0.45" fill="#111"/><circle cx="367.8" cy="230.0" r="0.45" fill="#111"/><circle cx="367.6" cy="229.4" r="0.45" fill="#111"/><circle cx="369.6" cy="214.4" r="0.45" fill="#111"/><circle cx="372.5" cy="251.1" r="0.45" fill="#111"/><circle cx="381.8" cy="244.0" r="0.45" fill="#111"/><circle cx="380.9" cy="235.8" r="0.45" fill="#111"/><circle cx="383.8" cy="228.0" r="0.45" fill="#111"/><circle cx="369.5" cy="216.7" r="0.45" fill="#111"/><circle cx="379.7" cy="252.8" r="0.45" fill="#111"/><circle cx="382.1" cy="239.3" r="0.45" fill="#111"/><circle cx="377.7" cy="252.0" r="0.45" fill="#111"/><circle cx="367.3" cy="236.2" r="0.45" fill="#111"/><circle cx="367.2" cy="239.9" r="0.45" fill="#111"/><circle cx="370.7" cy="215.9" r="0.45" fill="#111"/><circle cx="367.9" cy="231.0" r="0.45" fill="#111"/><circle cx="373.7" cy="250.4" r="0.45" fill="#111"/><circle cx="384.4" cy="230.6" r="0.45" fill="#111"/><circle cx="372.9" cy="209.4" r="0.45" fill="#111"/><circle cx="371.8" cy="251.9" r="0.45" fill="#111"/><circle cx="382.5" cy="241.6" r="0.45" fill="#111"/><circle cx="375.5" cy="213.2" r="0.45" fill="#111"/><circle cx="368.3" cy="247.9" r="0.45" fill="#111"/><circle cx="382.3" cy="225.1" r="0.45" fill="#111"/><circle cx="376.8" cy="252.7" r="0.45" fill="#111"/><circle cx="379.0" cy="223.3" r="0.45" fill="#111"/><circle cx="368.4" cy="245.4" r="0.45" fill="#111"/><circle cx="380.7" cy="239.4" r="0.45" fill="#111"/><circle cx="374.1" cy="249.7" r="0.45" fill="#111"/><circle cx="380.3" cy="240.8" r="0.45" fill="#111"/><circle cx="375.4" cy="202.0" r="0.45" fill="#111"/><circle cx="380.5" cy="246.2" r="0.45" fill="#111"/><circle cx="382.4" cy="239.8" r="0.45" fill="#111"/><circle cx="377.3" cy="207.9" r="0.45" fill="#111"/><circle cx="366.6" cy="239.4" r="0.45" fill="#111"/><circle cx="377.6" cy="251.8" r="0.45" fill="#111"/><circle cx="370.5" cy="214.5" r="0.45" fill="#111"/><circle cx="380.1" cy="244.9" r="0.45" fill="#111"/><circle cx="373.9" cy="254.3" r="0.45" fill="#111"/><circle cx="382.6" cy="226.8" r="0.45" fill="#111"/><circle cx="380.0" cy="217.7" r="0.45" fill="#111"/><circle cx="376.4" cy="248.4" r="0.45" fill="#111"/><circle cx="369.4" cy="210.7" r="0.45" fill="#111"/><circle cx="381.6" cy="245.5" r="0.45" fill="#111"/><circle cx="374.5" cy="253.3" r="0.45" fill="#111"/><circle cx="375.9" cy="209.9" r="0.45" fill="#111"/><circle cx="382.4" cy="242.0" r="0.45" fill="#111"/><circle cx="380.8" cy="242.1" r="0.45" fill="#111"/><circle cx="369.1" cy="218.3" r="0.45" fill="#111"/><circle cx="371.3" cy="242.1" r="0.45" fill="#111"/><circle cx="366.6" cy="233.5" r="0.45" fill="#111"/><circle cx="367.7" cy="220.3" r="0.45" fill="#111"/><circle cx="378.9" cy="248.4" r="0.45" fill="#111"/><circle cx="381.5" cy="218.3" r="0.45" fill="#111"/><circle cx="377.5" cy="250.0" r="0.45" fill="#111"/><circle cx="374.4" cy="206.8" r="0.45" fill="#111"/><circle cx="381.9" cy="224.3" r="0.45" fill="#111"/><circle cx="379.9" cy="217.5" r="0.45" fill="#111"/><circle cx="380.4" cy="243.5" r="0.45" fill="#111"/><circle cx="383.0" cy="236.9" r="0.45" fill="#111"/><circle cx="372.8" cy="209.9" r="0.45" fill="#111"/><circle cx="374.5" cy="255.2" r="0.45" fill="#111"/><circle cx="373.2" cy="249.3" r="0.45" fill="#111"/><circle cx="378.3" cy="250.9" r="0.45" fill="#111"/><circle cx="375.9" cy="252.2" r="0.45" fill="#111"/><circle cx="367.1" cy="221.9" r="0.45" fill="#111"/><circle cx="373.7" cy="249.9" r="0.45" fill="#111"/><circle cx="381.5" cy="219.8" r="0.45" fill="#111"/><circle cx="374.0" cy="253.8" r="0.45" fill="#111"/><circle cx="367.2" cy="239.1" r="0.45" fill="#111"/><circle cx="369.6" cy="248.0" r="0.45" fill="#111"/><circle cx="367.5" cy="220.3" r="0.45" fill="#111"/><circle cx="381.3" cy="215.5" r="0.45" fill="#111"/><circle cx="381.6" cy="228.6" r="0.45" fill="#111"/><circle cx="369.4" cy="221.5" r="0.45" fill="#111"/><circle cx="379.8" cy="248.8" r="0.45" fill="#111"/><circle cx="381.4" cy="218.9" r="0.45" fill="#111"/><circle cx="372.5" cy="209.0" r="0.45" fill="#111"/><circle cx="369.9" cy="214.1" r="0.45" fill="#111"/><circle cx="367.5" cy="233.5" r="0.45" fill="#111"/><circle cx="381.6" cy="230.9" r="0.45" fill="#111"/><circle cx="380.3" cy="239.2" r="0.45" fill="#111"/><circle cx="380.7" cy="218.6" r="0.45" fill="#111"/><circle cx="374.3" cy="210.1" r="0.45" fill="#111"/><circle cx="380.0" cy="222.1" r="0.45" fill="#111"/><circle cx="370.9" cy="247.1" r="0.45" fill="#111"/><circle cx="378.8" cy="218.9" r="0.45" fill="#111"/><circle cx="367.9" cy="242.9" r="0.45" fill="#111"/><circle cx="369.8" cy="223.6" r="0.45" fill="#111"/><circle cx="370.2" cy="217.1" r="0.45" fill="#111"/><circle cx="368.3" cy="215.1" r="0.45" fill="#111"/><circle cx="379.8" cy="239.0" r="0.45" fill="#111"/><circle cx="378.7" cy="220.5" r="0.45" fill="#111"/><circle cx="374.0" cy="212.3" r="0.45" fill="#111"/><circle cx="367.4" cy="218.5" r="0.45" fill="#111"/><circle cx="367.6" cy="239.4" r="0.45" fill="#111"/><circle cx="374.9" cy="209.5" r="0.45" fill="#111"/><circle cx="381.5" cy="234.7" r="0.45" fill="#111"/><circle cx="375.8" cy="251.4" r="0.45" fill="#111"/><circle cx="372.9" cy="213.5" r="0.45" fill="#111"/><circle cx="381.6" cy="220.2" r="0.45" fill="#111"/><circle cx="374.6" cy="256.0" r="0.45" fill="#111"/><circle cx="371.6" cy="210.6" r="0.45" fill="#111"/><circle cx="377.4" cy="255.4" r="0.45" fill="#111"/><circle cx="369.8" cy="207.3" r="0.45" fill="#111"/><circle cx="367.2" cy="239.8" r="0.45" fill="#111"/><circle cx="371.3" cy="213.0" r="0.45" fill="#111"/><circle cx="376.8" cy="247.8" r="0.45" fill="#111"/><circle cx="382.1" cy="218.3" r="0.45" fill="#111"/><circle cx="379.7" cy="217.6" r="0.45" fill="#111"/><circle cx="371.5" cy="253.9" r="0.45" fill="#111"/><circle cx="378.6" cy="243.8" r="0.45" fill="#111"/><circle cx="379.3" cy="212.6" r="0.45" fill="#111"/><circle cx="372.9" cy="207.0" r="0.45" fill="#111"/><circle cx="378.5" cy="250.0" r="0.45" fill="#111"/><circle cx="367.8" cy="237.8" r="0.45" fill="#111"/><circle cx="367.8" cy="243.6" r="0.45" fill="#111"/><circle cx="370.2" cy="216.8" r="0.45" fill="#111"/><circle cx="379.0" cy="211.9" r="0.45" fill="#111"/><circle cx="382.1" cy="228.6" r="0.45" fill="#111"/><circle cx="382.5" cy="235.5" r="0.45" fill="#111"/><circle cx="381.2" cy="211.7" r="0.45" fill="#111"/><circle cx="367.7" cy="220.8" r="0.45" fill="#111"/><circle cx="372.1" cy="252.1" r="0.45" fill="#111"/><circle cx="379.8" cy="247.5" r="0.45" fill="#111"/><circle cx="365.8" cy="238.8" r="0.45" fill="#111"/><circle cx="375.5" cy="254.3" r="0.45" fill="#111"/><circle cx="380.6" cy="251.5" r="0.45" fill="#111"/><circle cx="367.3" cy="238.8" r="0.45" fill="#111"/><circle cx="370.4" cy="216.8" r="0.45" fill="#111"/><circle cx="380.8" cy="226.3" r="0.45" fill="#111"/><circle cx="371.7" cy="209.4" r="0.45" fill="#111"/><circle cx="378.7" cy="254.1" r="0.45" fill="#111"/><circle cx="380.9" cy="232.2" r="0.45" fill="#111"/><circle cx="378.3" cy="252.0" r="0.45" fill="#111"/><circle cx="374.0" cy="250.7" r="0.45" fill="#111"/><circle cx="366.1" cy="227.6" r="0.45" fill="#111"/><circle cx="369.2" cy="216.1" r="0.45" fill="#111"/><circle cx="376.6" cy="212.1" r="0.45" fill="#111"/><circle cx="382.8" cy="215.3" r="0.45" fill="#111"/><circle cx="373.4" cy="205.4" r="0.45" fill="#111"/><circle cx="379.2" cy="244.5" r="0.45" fill="#111"/><circle cx="381.7" cy="218.3" r="0.45" fill="#111"/><circle cx="370.8" cy="242.9" r="0.45" fill="#111"/><circle cx="376.9" cy="211.9" r="0.45" fill="#111"/><circle cx="380.7" cy="224.7" r="0.45" fill="#111"/><circle cx="377.1" cy="253.5" r="0.45" fill="#111"/><circle cx="373.5" cy="207.1" r="0.45" fill="#111"/><circle cx="373.6" cy="212.7" r="0.45" fill="#111"/><circle cx="377.1" cy="259.4" r="0.45" fill="#111"/><circle cx="380.8" cy="228.5" r="0.45" fill="#111"/><circle cx="367.3" cy="225.7" r="0.45" fill="#111"/><circle cx="380.6" cy="220.3" r="0.45" fill="#111"/><circle cx="379.4" cy="213.8" r="0.45" fill="#111"/><circle cx="367.5" cy="239.5" r="0.45" fill="#111"/><circle cx="367.6" cy="223.9" r="0.45" fill="#111"/><circle cx="381.3" cy="234.4" r="0.45" fill="#111"/><circle cx="378.3" cy="205.5" r="0.45" fill="#111"/><circle cx="378.8" cy="252.7" r="0.45" fill="#111"/><circle cx="386" cy="206.5" r="0.55" fill="#222"/><circle cx="384.5" cy="215.5" r="0.55" fill="#222"/><circle cx="387" cy="217" r="0.55" fill="#222"/><circle cx="388.5" cy="214.5" r="0.55" fill="#222"/><circle cx="390" cy="216.5" r="0.55" fill="#222"/><circle cx="392" cy="215.5" r="0.55" fill="#222"/><circle cx="394.5" cy="217.5" r="0.55" fill="#222"/><circle cx="396" cy="219.5" r="0.55" fill="#222"/><circle cx="400" cy="211.5" r="0.55" fill="#222"/><circle cx="403" cy="210.5" r="0.55" fill="#222"/><circle cx="405" cy="212.5" r="0.55" fill="#222"/><circle cx="408" cy="213.5" r="0.55" fill="#222"/><circle cx="411" cy="213" r="0.55" fill="#222"/><circle cx="412.5" cy="214.5" r="0.55" fill="#222"/><circle cx="402" cy="216" r="0.55" fill="#222"/><circle cx="404" cy="219.5" r="0.55" fill="#222"/><circle cx="407" cy="221.5" r="0.55" fill="#222"/><circle cx="399" cy="214" r="0.55" fill="#222"/><circle cx="385" cy="221" r="0.55" fill="#222"/><circle cx="386.5" cy="223.5" r="0.55" fill="#222"/><circle cx="383.5" cy="229" r="0.55" fill="#222"/><circle cx="392" cy="228.5" r="0.55" fill="#222"/><circle cx="385.5" cy="241.5" r="0.55" fill="#222"/><circle cx="384" cy="233" r="0.55" fill="#222"/><circle cx="381.5" cy="219" r="0.55" fill="#222"/><path d="M383 218.5 L386 215.8 L389 216.2 L392.5 217.4" fill="none" stroke="#222" stroke-width="0.7"/><path d="M384.5 222.5 L386.5 219.5 L388 221.5 Z" fill="none" stroke="#222" stroke-width="0.6"/><circle cx="374.5" cy="223" r="0.8" fill="#666"/><circle cx="374" cy="238.5" r="0.8" fill="#666"/>
<rect x="439.80" y="199.00" width="58.60" height="58.70" fill="#fff" stroke="#000" stroke-width="1.3"/>
<rect x="460.90" y="204.40" width="36.10" height="49.20" fill="#fff" stroke="#111" stroke-width="1.3"/>
<line x1="437.60" y1="204.00" x2="439.20" y2="203.20" stroke="#333" stroke-width="0.6"/>
<line x1="437.60" y1="218.00" x2="439.20" y2="217.20" stroke="#333" stroke-width="0.6"/>
<line x1="437.60" y1="236.00" x2="439.20" y2="235.20" stroke="#333" stroke-width="0.6"/>
<line x1="437.60" y1="248.00" x2="439.20" y2="247.20" stroke="#333" stroke-width="0.6"/>
<line x1="437.60" y1="255.00" x2="439.20" y2="254.20" stroke="#333" stroke-width="0.6"/>
<line x1="451.20" y1="260.20" x2="452.40" y2="259.00" stroke="#333" stroke-width="0.6"/>
<line x1="465.20" y1="260.20" x2="466.40" y2="259.00" stroke="#333" stroke-width="0.6"/>
<line x1="480.20" y1="260.20" x2="481.40" y2="259.00" stroke="#333" stroke-width="0.6"/>
<line x1="493.20" y1="260.20" x2="494.40" y2="259.00" stroke="#333" stroke-width="0.6"/>
<line x1="444.80" y1="259.20" x2="452.80" y2="259.20" stroke="#111" stroke-width="1.2"/>
<line x1="438.60" y1="240.00" x2="438.60" y2="252.00" stroke="#222" stroke-width="0.9"/>
<ellipse cx="452.6" cy="237.5" rx="5.6" ry="11.5" fill="#000"/><ellipse cx="452.8" cy="222.5" rx="4.6" ry="8.6" fill="#000"/><rect x="448" y="222" width="9" height="18" fill="#000"/><circle cx="449.5" cy="247.7" r="0.42" fill="#111"/><circle cx="455.5" cy="245.4" r="0.42" fill="#111"/><circle cx="447.0" cy="229.7" r="0.42" fill="#111"/><circle cx="450.8" cy="218.2" r="0.42" fill="#111"/><circle cx="456.1" cy="227.1" r="0.42" fill="#111"/><circle cx="457.3" cy="241.1" r="0.42" fill="#111"/><circle cx="453.3" cy="247.9" r="0.42" fill="#111"/><circle cx="451.7" cy="213.5" r="0.42" fill="#111"/><circle cx="449.6" cy="220.6" r="0.42" fill="#111"/><circle cx="447.4" cy="224.9" r="0.42" fill="#111"/><circle cx="450.6" cy="245.7" r="0.42" fill="#111"/><circle cx="457.7" cy="219.0" r="0.42" fill="#111"/><circle cx="454.1" cy="252.7" r="0.42" fill="#111"/><circle cx="448.3" cy="229.4" r="0.42" fill="#111"/><circle cx="447.2" cy="222.9" r="0.42" fill="#111"/><circle cx="446.0" cy="231.1" r="0.42" fill="#111"/><circle cx="446.6" cy="216.6" r="0.42" fill="#111"/><circle cx="446.5" cy="229.5" r="0.42" fill="#111"/><circle cx="447.6" cy="242.8" r="0.42" fill="#111"/><circle cx="447.6" cy="232.4" r="0.42" fill="#111"/><circle cx="450.1" cy="211.9" r="0.42" fill="#111"/><circle cx="447.3" cy="241.6" r="0.42" fill="#111"/><circle cx="458.3" cy="226.1" r="0.42" fill="#111"/><circle cx="447.1" cy="234.5" r="0.42" fill="#111"/><circle cx="455.5" cy="242.1" r="0.42" fill="#111"/><circle cx="457.3" cy="219.7" r="0.42" fill="#111"/><circle cx="447.0" cy="234.1" r="0.42" fill="#111"/><circle cx="448.0" cy="218.1" r="0.42" fill="#111"/><circle cx="458.1" cy="221.9" r="0.42" fill="#111"/><circle cx="458.8" cy="234.5" r="0.42" fill="#111"/><circle cx="454.4" cy="249.3" r="0.42" fill="#111"/><circle cx="449.5" cy="251.1" r="0.42" fill="#111"/><circle cx="449.1" cy="245.5" r="0.42" fill="#111"/><circle cx="451.8" cy="213.8" r="0.42" fill="#111"/><circle cx="456.0" cy="243.2" r="0.42" fill="#111"/><circle cx="454.2" cy="248.9" r="0.42" fill="#111"/><circle cx="447.5" cy="228.4" r="0.42" fill="#111"/><circle cx="447.4" cy="241.5" r="0.42" fill="#111"/><circle cx="446.7" cy="228.0" r="0.42" fill="#111"/><circle cx="448.3" cy="217.0" r="0.42" fill="#111"/><circle cx="449.6" cy="220.6" r="0.42" fill="#111"/><circle cx="448.3" cy="220.1" r="0.42" fill="#111"/><circle cx="456.0" cy="216.7" r="0.42" fill="#111"/><circle cx="454.9" cy="211.0" r="0.42" fill="#111"/><circle cx="456.8" cy="221.3" r="0.42" fill="#111"/><circle cx="457.8" cy="222.0" r="0.42" fill="#111"/><circle cx="453.8" cy="254.2" r="0.42" fill="#111"/><circle cx="456.1" cy="245.3" r="0.42" fill="#111"/><circle cx="452.8" cy="249.7" r="0.42" fill="#111"/><circle cx="456.6" cy="241.1" r="0.42" fill="#111"/><circle cx="454.6" cy="218.4" r="0.42" fill="#111"/><circle cx="456.7" cy="246.0" r="0.42" fill="#111"/><circle cx="447.9" cy="242.0" r="0.42" fill="#111"/><circle cx="454.1" cy="248.8" r="0.42" fill="#111"/><circle cx="449.5" cy="210.1" r="0.42" fill="#111"/><circle cx="455.9" cy="241.7" r="0.42" fill="#111"/><circle cx="446.8" cy="230.8" r="0.42" fill="#111"/><circle cx="450.5" cy="216.9" r="0.42" fill="#111"/><circle cx="454.6" cy="249.5" r="0.42" fill="#111"/><circle cx="458.0" cy="235.9" r="0.42" fill="#111"/><circle cx="443" cy="218.5" r="0.5" fill="#222"/><circle cx="451" cy="208.5" r="0.5" fill="#222"/><circle cx="453.5" cy="206.5" r="0.5" fill="#222"/><circle cx="459" cy="212.5" r="0.5" fill="#222"/><circle cx="461" cy="217" r="0.5" fill="#222"/><circle cx="463.5" cy="216.5" r="0.5" fill="#222"/><circle cx="465.5" cy="220" r="0.5" fill="#222"/><circle cx="458" cy="221" r="0.5" fill="#222"/><circle cx="450" cy="211.5" r="0.5" fill="#222"/><path d="M456.5 221.5 L460.5 216 L462 217.5" fill="none" stroke="#222" stroke-width="0.7"/><circle cx="452" cy="220" r="0.8" fill="#777"/><circle cx="452.5" cy="228" r="0.8" fill="#777"/>
<text x="1.00" y="304.90" font-size="15" font-weight="bold" fill="#000">H</text>
<rect x="53.80" y="371.63" width="26.40" height="25.07" fill="#fff" stroke="#000" stroke-width="1"/>
<rect x="93.30" y="388.70" width="27.00" height="8.00" fill="#000" stroke="#000" stroke-width="1"/>
<line x1="47.00" y1="316.00" x2="47.00" y2="397.20" stroke="#000" stroke-width="1.25"/>
<line x1="46.50" y1="396.70" x2="127.00" y2="396.70" stroke="#000" stroke-width="1.25"/>
<line x1="44.00" y1="396.70" x2="47.00" y2="396.70" stroke="#000" stroke-width="1.25"/>
<text x="42.80" y="399.80" font-size="9.0" text-anchor="end" fill="#231f20">0.0</text>
<line x1="44.00" y1="370.03" x2="47.00" y2="370.03" stroke="#000" stroke-width="1.25"/>
<text x="42.80" y="373.13" font-size="9.0" text-anchor="end" fill="#231f20">0.1</text>
<line x1="44.00" y1="343.36" x2="47.00" y2="343.36" stroke="#000" stroke-width="1.25"/>
<text x="42.80" y="346.46" font-size="9.0" text-anchor="end" fill="#231f20">0.2</text>
<line x1="44.00" y1="316.69" x2="47.00" y2="316.69" stroke="#000" stroke-width="1.25"/>
<text x="42.80" y="319.79" font-size="9.0" text-anchor="end" fill="#231f20">0.3</text>
<line x1="67.20" y1="396.70" x2="67.20" y2="399.70" stroke="#000" stroke-width="1.25"/>
<line x1="107.00" y1="396.70" x2="107.00" y2="399.70" stroke="#000" stroke-width="1.25"/>
<text x="16.20" y="356.00" font-size="9.0" text-anchor="middle" transform="rotate(-90 16.20 356.00)" fill="#231f20">lyso-ePS-reactive NKT</text>
<text x="26.60" y="356.00" font-size="9.0" text-anchor="middle" transform="rotate(-90 26.60 356.00)" fill="#231f20">(% total immune cells)</text>
<line x1="67.20" y1="366.40" x2="67.20" y2="376.50" stroke="#000" stroke-width="1"/>
<line x1="61.20" y1="366.40" x2="73.20" y2="366.40" stroke="#000" stroke-width="1"/>
<line x1="61.20" y1="376.50" x2="73.20" y2="376.50" stroke="#000" stroke-width="1"/>
<line x1="107.00" y1="385.80" x2="107.00" y2="388.60" stroke="#000" stroke-width="1"/>
<line x1="101.00" y1="385.80" x2="113.00" y2="385.80" stroke="#000" stroke-width="1"/>
<circle cx="67.20" cy="329.00" r="2.1" fill="#000"/>
<circle cx="67.20" cy="353.50" r="2.1" fill="#000"/>
<circle cx="61.40" cy="364.40" r="2.1" fill="#000"/>
<circle cx="70.70" cy="364.40" r="2.1" fill="#000"/>
<circle cx="64.50" cy="368.00" r="2.1" fill="#000"/>
<circle cx="69.00" cy="371.00" r="2.1" fill="#000"/>
<circle cx="63.50" cy="376.00" r="2.1" fill="#000"/>
<circle cx="67.50" cy="379.00" r="2.1" fill="#000"/>
<circle cx="62.00" cy="383.00" r="2.1" fill="#000"/>
<circle cx="71.00" cy="383.00" r="2.1" fill="#000"/>
<circle cx="66.00" cy="388.50" r="2.1" fill="#000"/>
<circle cx="67.20" cy="394.70" r="2.1" fill="#000"/>
<rect x="105.58" y="369.07" width="3.45" height="3.45" fill="#fff" stroke="#000" stroke-width="1.25"/>
<rect x="105.58" y="374.77" width="3.45" height="3.45" fill="#fff" stroke="#000" stroke-width="1.25"/>
<rect x="109.88" y="374.77" width="3.45" height="3.45" fill="#fff" stroke="#000" stroke-width="1.25"/>
<rect x="93.95" y="394.15" width="3.3" height="3.3" fill="#fff" stroke="#000" stroke-width="1.0"/>
<rect x="100.85" y="394.15" width="3.3" height="3.3" fill="#fff" stroke="#000" stroke-width="1.0"/>
<rect x="104.85" y="394.15" width="3.3" height="3.3" fill="#fff" stroke="#000" stroke-width="1.0"/>
<rect x="109.15" y="394.15" width="3.3" height="3.3" fill="#fff" stroke="#000" stroke-width="1.0"/>
<rect x="112.95" y="394.15" width="3.3" height="3.3" fill="#fff" stroke="#000" stroke-width="1.0"/>
<rect x="116.85" y="394.15" width="3.3" height="3.3" fill="#fff" stroke="#000" stroke-width="1.0"/>
<text x="107.30" y="364.30" font-size="9.4" text-anchor="middle" fill="#444" style="stroke:none">**</text>
<text x="72.50" y="407.30" font-size="9.0" text-anchor="end" transform="rotate(-45 72.50 407.30)" fill="#231f20">Ctrl</text>
<text x="113.00" y="407.30" font-size="9.0" text-anchor="end" transform="rotate(-45 113.00 407.30)" fill="#231f20">Ptdss1-KD</text>
<text x="161.50" y="304.50" font-size="15" font-weight="bold" fill="#000">I</text>
<line x1="195.20" y1="316.50" x2="195.20" y2="397.30" stroke="#000" stroke-width="1.25"/>
<line x1="194.70" y1="396.80" x2="274.00" y2="396.80" stroke="#000" stroke-width="1.25"/>
<line x1="192.20" y1="396.80" x2="195.20" y2="396.80" stroke="#000" stroke-width="1.25"/>
<text x="191.00" y="399.90" font-size="9.0" text-anchor="end" fill="#231f20">0</text>
<line x1="192.20" y1="370.20" x2="195.20" y2="370.20" stroke="#000" stroke-width="1.25"/>
<text x="191.00" y="373.30" font-size="9.0" text-anchor="end" fill="#231f20">0.5</text>
<line x1="192.20" y1="343.60" x2="195.20" y2="343.60" stroke="#000" stroke-width="1.25"/>
<text x="191.00" y="346.70" font-size="9.0" text-anchor="end" fill="#231f20">1.0</text>
<line x1="192.20" y1="317.00" x2="195.20" y2="317.00" stroke="#000" stroke-width="1.25"/>
<text x="191.00" y="320.10" font-size="9.0" text-anchor="end" fill="#231f20">1.5</text>
<line x1="201.70" y1="396.80" x2="201.70" y2="399.80" stroke="#000" stroke-width="1.25"/>
<text x="201.70" y="409.00" font-size="9.0" text-anchor="middle" fill="#231f20">0</text>
<line x1="214.92" y1="396.80" x2="214.92" y2="399.80" stroke="#000" stroke-width="1.25"/>
<text x="214.92" y="409.00" font-size="9.0" text-anchor="middle" fill="#231f20">1</text>
<line x1="228.14" y1="396.80" x2="228.14" y2="399.80" stroke="#000" stroke-width="1.25"/>
<text x="228.14" y="409.00" font-size="9.0" text-anchor="middle" fill="#231f20">2</text>
<line x1="241.36" y1="396.80" x2="241.36" y2="399.80" stroke="#000" stroke-width="1.25"/>
<text x="241.36" y="409.00" font-size="9.0" text-anchor="middle" fill="#231f20">3</text>
<line x1="254.58" y1="396.80" x2="254.58" y2="399.80" stroke="#000" stroke-width="1.25"/>
<text x="254.58" y="409.00" font-size="9.0" text-anchor="middle" fill="#231f20">4</text>
<line x1="267.80" y1="396.80" x2="267.80" y2="399.80" stroke="#000" stroke-width="1.25"/>
<text x="267.80" y="409.00" font-size="9.0" text-anchor="middle" fill="#231f20">5</text>
<text x="173.50" y="356.50" font-size="9.0" text-anchor="middle" transform="rotate(-90 173.50 356.50)" fill="#231f20">Tumor diameter (cm)</text>
<text x="165.30" y="409.00" font-size="9.0" fill="#231f20">Weeks</text>
<polyline points="201.70,396.80 214.92,374.08 228.14,364.88 241.36,357.17 254.58,355.62 267.80,347.86" fill="none" stroke="#000" stroke-width="1.35" stroke-linejoin="round"/>
<circle cx="201.70" cy="396.80" r="2.4" fill="#000"/>
<line x1="214.92" y1="370.89" x2="214.92" y2="377.28" stroke="#000" stroke-width="1.1"/>
<line x1="212.72" y1="370.89" x2="217.12" y2="370.89" stroke="#000" stroke-width="1.1"/>
<line x1="212.72" y1="377.28" x2="217.12" y2="377.28" stroke="#000" stroke-width="1.1"/>
<circle cx="214.92" cy="374.08" r="2.4" fill="#000"/>
<line x1="228.14" y1="359.03" x2="228.14" y2="370.73" stroke="#000" stroke-width="1.1"/>
<line x1="225.94" y1="359.03" x2="230.34" y2="359.03" stroke="#000" stroke-width="1.1"/>
<line x1="225.94" y1="370.73" x2="230.34" y2="370.73" stroke="#000" stroke-width="1.1"/>
<circle cx="228.14" cy="364.88" r="2.4" fill="#000"/>
<line x1="241.36" y1="353.97" x2="241.36" y2="360.36" stroke="#000" stroke-width="1.1"/>
<line x1="239.16" y1="353.97" x2="243.56" y2="353.97" stroke="#000" stroke-width="1.1"/>
<line x1="239.16" y1="360.36" x2="243.56" y2="360.36" stroke="#000" stroke-width="1.1"/>
<circle cx="241.36" cy="357.17" r="2.4" fill="#000"/>
<line x1="254.58" y1="351.90" x2="254.58" y2="359.35" stroke="#000" stroke-width="1.1"/>
<line x1="252.38" y1="351.90" x2="256.78" y2="351.90" stroke="#000" stroke-width="1.1"/>
<line x1="252.38" y1="359.35" x2="256.78" y2="359.35" stroke="#000" stroke-width="1.1"/>
<circle cx="254.58" cy="355.62" r="2.4" fill="#000"/>
<line x1="267.80" y1="342.54" x2="267.80" y2="353.18" stroke="#000" stroke-width="1.1"/>
<line x1="265.60" y1="342.54" x2="270.00" y2="342.54" stroke="#000" stroke-width="1.1"/>
<line x1="265.60" y1="353.18" x2="270.00" y2="353.18" stroke="#000" stroke-width="1.1"/>
<circle cx="267.80" cy="347.86" r="2.4" fill="#000"/>
<polyline points="201.70,396.80 214.92,386.96 228.14,372.33 241.36,373.39 254.58,376.21 267.80,380.31" fill="none" stroke="#000" stroke-width="1.35" stroke-linejoin="round"/>
<line x1="214.92" y1="383.23" x2="214.92" y2="390.68" stroke="#000" stroke-width="1.1"/>
<line x1="212.72" y1="383.23" x2="217.12" y2="383.23" stroke="#000" stroke-width="1.1"/>
<line x1="212.72" y1="390.68" x2="217.12" y2="390.68" stroke="#000" stroke-width="1.1"/>
<line x1="228.14" y1="365.41" x2="228.14" y2="379.24" stroke="#000" stroke-width="1.1"/>
<line x1="225.94" y1="365.41" x2="230.34" y2="365.41" stroke="#000" stroke-width="1.1"/>
<line x1="225.94" y1="379.24" x2="230.34" y2="379.24" stroke="#000" stroke-width="1.1"/>
<line x1="241.36" y1="367.01" x2="241.36" y2="379.78" stroke="#000" stroke-width="1.1"/>
<line x1="239.16" y1="367.01" x2="243.56" y2="367.01" stroke="#000" stroke-width="1.1"/>
<line x1="239.16" y1="379.78" x2="243.56" y2="379.78" stroke="#000" stroke-width="1.1"/>
<line x1="254.58" y1="370.89" x2="254.58" y2="381.53" stroke="#000" stroke-width="1.1"/>
<line x1="252.38" y1="370.89" x2="256.78" y2="370.89" stroke="#000" stroke-width="1.1"/>
<line x1="252.38" y1="381.53" x2="256.78" y2="381.53" stroke="#000" stroke-width="1.1"/>
<line x1="267.80" y1="370.20" x2="267.80" y2="390.42" stroke="#000" stroke-width="1.1"/>
<line x1="265.60" y1="370.20" x2="270.00" y2="370.20" stroke="#000" stroke-width="1.1"/>
<line x1="265.60" y1="390.42" x2="270.00" y2="390.42" stroke="#000" stroke-width="1.1"/>
<rect x="199.80" y="394.90" width="3.8" height="3.8" fill="#fff" stroke="#000" stroke-width="1.2"/>
<rect x="213.02" y="385.06" width="3.8" height="3.8" fill="#fff" stroke="#000" stroke-width="1.2"/>
<rect x="226.24" y="370.43" width="3.8" height="3.8" fill="#fff" stroke="#000" stroke-width="1.2"/>
<rect x="239.46" y="371.49" width="3.8" height="3.8" fill="#fff" stroke="#000" stroke-width="1.2"/>
<rect x="252.68" y="374.31" width="3.8" height="3.8" fill="#fff" stroke="#000" stroke-width="1.2"/>
<rect x="265.90" y="378.41" width="3.8" height="3.8" fill="#fff" stroke="#000" stroke-width="1.2"/>
<text x="254.60" y="351.10" font-size="9.4" text-anchor="middle" fill="#444" style="stroke:none">*</text>
<text x="267.80" y="337.80" font-size="9.4" text-anchor="middle" fill="#444" style="stroke:none">*</text>
<circle cx="202.30" cy="320.80" r="2.4" fill="#000"/>
<text x="209.00" y="324.00" font-size="9.0" fill="#231f20">Ctrl</text>
<rect x="200.40" y="328.70" width="3.8" height="3.8" fill="#fff" stroke="#000" stroke-width="1.1"/>
<text x="209.00" y="334.00" font-size="9.0" fill="#231f20">Ptdss1-KD</text>
<text x="309.00" y="304.60" font-size="15" font-weight="bold" fill="#000">J</text>
<rect x="347.30" y="390.30" width="4.60" height="4.80" fill="#fff" stroke="#000" stroke-width="0.9"/>
<rect x="353.10" y="376.70" width="4.60" height="18.40" fill="#000" stroke="#000" stroke-width="0.9"/>
<line x1="349.60" y1="387.90" x2="349.60" y2="392.70" stroke="#000" stroke-width="0.8"/>
<line x1="348.10" y1="387.90" x2="351.10" y2="387.90" stroke="#000" stroke-width="0.8"/>
<line x1="348.10" y1="392.70" x2="351.10" y2="392.70" stroke="#000" stroke-width="0.8"/>
<line x1="355.40" y1="363.90" x2="355.40" y2="376.70" stroke="#000" stroke-width="0.8"/>
<line x1="353.90" y1="363.90" x2="356.90" y2="363.90" stroke="#000" stroke-width="0.8"/>
<rect x="362.30" y="382.30" width="4.60" height="12.80" fill="#fff" stroke="#000" stroke-width="0.9"/>
<rect x="368.10" y="383.10" width="4.60" height="12.00" fill="#000" stroke="#000" stroke-width="0.9"/>
<line x1="364.60" y1="380.70" x2="364.60" y2="383.90" stroke="#000" stroke-width="0.8"/>
<line x1="363.10" y1="380.70" x2="366.10" y2="380.70" stroke="#000" stroke-width="0.8"/>
<line x1="363.10" y1="383.90" x2="366.10" y2="383.90" stroke="#000" stroke-width="0.8"/>
<line x1="370.40" y1="381.50" x2="370.40" y2="383.10" stroke="#000" stroke-width="0.8"/>
<line x1="368.90" y1="381.50" x2="371.90" y2="381.50" stroke="#000" stroke-width="0.8"/>
<rect x="377.30" y="345.98" width="4.60" height="49.12" fill="#fff" stroke="#000" stroke-width="0.9"/>
<rect x="383.10" y="365.18" width="4.60" height="29.92" fill="#000" stroke="#000" stroke-width="0.9"/>
<line x1="379.60" y1="342.78" x2="379.60" y2="349.18" stroke="#000" stroke-width="0.8"/>
<line x1="378.10" y1="342.78" x2="381.10" y2="342.78" stroke="#000" stroke-width="0.8"/>
<line x1="378.10" y1="349.18" x2="381.10" y2="349.18" stroke="#000" stroke-width="0.8"/>
<line x1="385.40" y1="361.18" x2="385.40" y2="365.18" stroke="#000" stroke-width="0.8"/>
<line x1="383.90" y1="361.18" x2="386.90" y2="361.18" stroke="#000" stroke-width="0.8"/>
<rect x="392.30" y="391.58" width="4.60" height="3.52" fill="#fff" stroke="#000" stroke-width="0.9"/>
<rect x="398.10" y="393.50" width="4.60" height="1.60" fill="#000" stroke="#000" stroke-width="0.9"/>
<line x1="394.60" y1="390.78" x2="394.60" y2="392.38" stroke="#000" stroke-width="0.8"/>
<line x1="393.10" y1="390.78" x2="396.10" y2="390.78" stroke="#000" stroke-width="0.8"/>
<line x1="393.10" y1="392.38" x2="396.10" y2="392.38" stroke="#000" stroke-width="0.8"/>
<rect x="407.30" y="394.14" width="4.60" height="0.96" fill="#fff" stroke="#000" stroke-width="0.9"/>
<rect x="413.10" y="393.82" width="4.60" height="1.28" fill="#000" stroke="#000" stroke-width="0.9"/>
<rect x="422.30" y="383.42" width="4.60" height="11.68" fill="#fff" stroke="#000" stroke-width="0.9"/>
<rect x="428.10" y="383.10" width="4.60" height="12.00" fill="#000" stroke="#000" stroke-width="0.9"/>
<line x1="424.60" y1="381.82" x2="424.60" y2="385.02" stroke="#000" stroke-width="0.8"/>
<line x1="423.10" y1="381.82" x2="426.10" y2="381.82" stroke="#000" stroke-width="0.8"/>
<line x1="423.10" y1="385.02" x2="426.10" y2="385.02" stroke="#000" stroke-width="0.8"/>
<line x1="430.40" y1="381.50" x2="430.40" y2="383.10" stroke="#000" stroke-width="0.8"/>
<line x1="428.90" y1="381.50" x2="431.90" y2="381.50" stroke="#000" stroke-width="0.8"/>
<rect x="437.30" y="376.54" width="4.60" height="18.56" fill="#fff" stroke="#000" stroke-width="0.9"/>
<rect x="443.10" y="368.54" width="4.60" height="26.56" fill="#000" stroke="#000" stroke-width="0.9"/>
<line x1="439.60" y1="374.14" x2="439.60" y2="378.94" stroke="#000" stroke-width="0.8"/>
<line x1="438.10" y1="374.14" x2="441.10" y2="374.14" stroke="#000" stroke-width="0.8"/>
<line x1="438.10" y1="378.94" x2="441.10" y2="378.94" stroke="#000" stroke-width="0.8"/>
<line x1="445.40" y1="365.34" x2="445.40" y2="368.54" stroke="#000" stroke-width="0.8"/>
<line x1="443.90" y1="365.34" x2="446.90" y2="365.34" stroke="#000" stroke-width="0.8"/>
<rect x="452.30" y="382.30" width="4.60" height="12.80" fill="#fff" stroke="#000" stroke-width="0.9"/>
<rect x="458.10" y="379.10" width="4.60" height="16.00" fill="#000" stroke="#000" stroke-width="0.9"/>
<line x1="454.60" y1="380.70" x2="454.60" y2="383.90" stroke="#000" stroke-width="0.8"/>
<line x1="453.10" y1="380.70" x2="456.10" y2="380.70" stroke="#000" stroke-width="0.8"/>
<line x1="453.10" y1="383.90" x2="456.10" y2="383.90" stroke="#000" stroke-width="0.8"/>
<line x1="460.40" y1="376.70" x2="460.40" y2="379.10" stroke="#000" stroke-width="0.8"/>
<line x1="458.90" y1="376.70" x2="461.90" y2="376.70" stroke="#000" stroke-width="0.8"/>
<line x1="344.80" y1="314.90" x2="344.80" y2="395.60" stroke="#000" stroke-width="1.25"/>
<line x1="344.30" y1="395.10" x2="465.30" y2="395.10" stroke="#000" stroke-width="1.25"/>
<line x1="341.80" y1="395.10" x2="344.80" y2="395.10" stroke="#000" stroke-width="1.25"/>
<text x="340.60" y="398.20" font-size="9.0" text-anchor="end" fill="#231f20">0</text>
<line x1="341.80" y1="379.10" x2="344.80" y2="379.10" stroke="#000" stroke-width="1.25"/>
<text x="340.60" y="382.20" font-size="9.0" text-anchor="end" fill="#231f20">10</text>
<line x1="341.80" y1="363.10" x2="344.80" y2="363.10" stroke="#000" stroke-width="1.25"/>
<text x="340.60" y="366.20" font-size="9.0" text-anchor="end" fill="#231f20">20</text>
<line x1="341.80" y1="347.10" x2="344.80" y2="347.10" stroke="#000" stroke-width="1.25"/>
<text x="340.60" y="350.20" font-size="9.0" text-anchor="end" fill="#231f20">30</text>
<line x1="341.80" y1="331.10" x2="344.80" y2="331.10" stroke="#000" stroke-width="1.25"/>
<text x="340.60" y="334.20" font-size="9.0" text-anchor="end" fill="#231f20">40</text>
<line x1="341.80" y1="315.10" x2="344.80" y2="315.10" stroke="#000" stroke-width="1.25"/>
<text x="340.60" y="318.20" font-size="9.0" text-anchor="end" fill="#231f20">50</text>
<line x1="352.50" y1="395.10" x2="352.50" y2="398.10" stroke="#000" stroke-width="1.25"/>
<line x1="367.50" y1="395.10" x2="367.50" y2="398.10" stroke="#000" stroke-width="1.25"/>
<line x1="382.50" y1="395.10" x2="382.50" y2="398.10" stroke="#000" stroke-width="1.25"/>
<line x1="397.50" y1="395.10" x2="397.50" y2="398.10" stroke="#000" stroke-width="1.25"/>
<line x1="412.50" y1="395.10" x2="412.50" y2="398.10" stroke="#000" stroke-width="1.25"/>
<line x1="427.50" y1="395.10" x2="427.50" y2="398.10" stroke="#000" stroke-width="1.25"/>
<line x1="442.50" y1="395.10" x2="442.50" y2="398.10" stroke="#000" stroke-width="1.25"/>
<line x1="457.50" y1="395.10" x2="457.50" y2="398.10" stroke="#000" stroke-width="1.25"/>
<circle cx="349.60" cy="379.10" r="2.15" fill="#000"/>
<circle cx="349.10" cy="390.30" r="2.15" fill="#000"/>
<circle cx="350.10" cy="391.90" r="2.15" fill="#000"/>
<circle cx="349.30" cy="392.70" r="2.15" fill="#000"/>
<circle cx="349.90" cy="393.50" r="2.15" fill="#000"/>
<rect x="353.80" y="338.30" width="3.2" height="3.2" fill="#fff" stroke="#000" stroke-width="1.2"/>
<rect x="353.20" y="383.90" width="3.2" height="3.2" fill="#fff" stroke="#000" stroke-width="1.2"/>
<rect x="354.40" y="390.30" width="3.2" height="3.2" fill="#fff" stroke="#000" stroke-width="1.2"/>
<rect x="353.50" y="391.10" width="3.2" height="3.2" fill="#fff" stroke="#000" stroke-width="1.2"/>
<circle cx="364.60" cy="378.30" r="2.15" fill="#000"/>
<circle cx="364.10" cy="380.70" r="2.15" fill="#000"/>
<circle cx="365.10" cy="382.30" r="2.15" fill="#000"/>
<circle cx="364.30" cy="383.90" r="2.15" fill="#000"/>
<circle cx="364.90" cy="385.50" r="2.15" fill="#000"/>
<rect x="368.80" y="379.90" width="3.2" height="3.2" fill="#fff" stroke="#000" stroke-width="1.2"/>
<rect x="368.20" y="383.90" width="3.2" height="3.2" fill="#fff" stroke="#000" stroke-width="1.2"/>
<rect x="369.40" y="387.10" width="3.2" height="3.2" fill="#fff" stroke="#000" stroke-width="1.2"/>
<circle cx="379.60" cy="334.30" r="2.15" fill="#000"/>
<circle cx="379.10" cy="340.70" r="2.15" fill="#000"/>
<circle cx="380.10" cy="343.90" r="2.15" fill="#000"/>
<circle cx="379.30" cy="347.10" r="2.15" fill="#000"/>
<circle cx="379.90" cy="348.70" r="2.15" fill="#000"/>
<rect x="383.80" y="354.30" width="3.2" height="3.2" fill="#fff" stroke="#000" stroke-width="1.2"/>
<rect x="383.20" y="357.50" width="3.2" height="3.2" fill="#fff" stroke="#000" stroke-width="1.2"/>
<rect x="384.40" y="364.70" width="3.2" height="3.2" fill="#fff" stroke="#000" stroke-width="1.2"/>
<rect x="383.50" y="378.30" width="3.2" height="3.2" fill="#fff" stroke="#000" stroke-width="1.2"/>
<circle cx="394.60" cy="389.50" r="2.15" fill="#000"/>
<circle cx="394.10" cy="391.90" r="2.15" fill="#000"/>
<circle cx="395.10" cy="392.70" r="2.15" fill="#000"/>
<rect x="398.80" y="391.58" width="3.2" height="3.2" fill="#fff" stroke="#000" stroke-width="1.2"/>
<rect x="398.20" y="392.22" width="3.2" height="3.2" fill="#fff" stroke="#000" stroke-width="1.2"/>
<circle cx="409.60" cy="394.14" r="2.15" fill="#000"/>
<circle cx="409.10" cy="394.46" r="2.15" fill="#000"/>
<rect x="413.80" y="391.90" width="3.2" height="3.2" fill="#fff" stroke="#000" stroke-width="1.2"/>
<rect x="413.20" y="392.22" width="3.2" height="3.2" fill="#fff" stroke="#000" stroke-width="1.2"/>
<circle cx="424.60" cy="380.70" r="2.15" fill="#000"/>
<circle cx="424.10" cy="383.90" r="2.15" fill="#000"/>
<circle cx="425.10" cy="385.50" r="2.15" fill="#000"/>
<circle cx="424.30" cy="387.10" r="2.15" fill="#000"/>
<rect x="428.80" y="378.30" width="3.2" height="3.2" fill="#fff" stroke="#000" stroke-width="1.2"/>
<rect x="428.20" y="383.90" width="3.2" height="3.2" fill="#fff" stroke="#000" stroke-width="1.2"/>
<rect x="429.40" y="386.30" width="3.2" height="3.2" fill="#fff" stroke="#000" stroke-width="1.2"/>
<circle cx="439.60" cy="367.90" r="2.15" fill="#000"/>
<circle cx="439.10" cy="374.30" r="2.15" fill="#000"/>
<circle cx="440.10" cy="377.50" r="2.15" fill="#000"/>
<circle cx="439.30" cy="379.10" r="2.15" fill="#000"/>
<circle cx="439.90" cy="382.30" r="2.15" fill="#000"/>
<rect x="443.80" y="361.50" width="3.2" height="3.2" fill="#fff" stroke="#000" stroke-width="1.2"/>
<rect x="443.20" y="363.10" width="3.2" height="3.2" fill="#fff" stroke="#000" stroke-width="1.2"/>
<rect x="444.40" y="369.50" width="3.2" height="3.2" fill="#fff" stroke="#000" stroke-width="1.2"/>
<rect x="443.50" y="377.50" width="3.2" height="3.2" fill="#fff" stroke="#000" stroke-width="1.2"/>
<circle cx="454.60" cy="382.30" r="2.15" fill="#000"/>
<circle cx="454.10" cy="383.10" r="2.15" fill="#000"/>
<circle cx="455.10" cy="383.90" r="2.15" fill="#000"/>
<circle cx="454.30" cy="385.50" r="2.15" fill="#000"/>
<circle cx="454.90" cy="387.10" r="2.15" fill="#000"/>
<rect x="458.80" y="366.30" width="3.2" height="3.2" fill="#fff" stroke="#000" stroke-width="1.2"/>
<rect x="458.20" y="375.90" width="3.2" height="3.2" fill="#fff" stroke="#000" stroke-width="1.2"/>
<rect x="459.40" y="380.70" width="3.2" height="3.2" fill="#fff" stroke="#000" stroke-width="1.2"/>
<rect x="458.50" y="382.30" width="3.2" height="3.2" fill="#fff" stroke="#000" stroke-width="1.2"/>
<text x="355.90" y="405.60" font-size="9.0" text-anchor="end" transform="rotate(-45 355.90 405.60)" fill="#231f20">Neutrophils</text>
<text x="370.90" y="405.60" font-size="9.0" text-anchor="end" transform="rotate(-45 370.90 405.60)" fill="#231f20">Monocytes</text>
<text x="385.90" y="405.60" font-size="9.0" text-anchor="end" transform="rotate(-45 385.90 405.60)" fill="#231f20">Macrophages</text>
<text x="400.90" y="405.60" font-size="9.0" text-anchor="end" transform="rotate(-45 400.90 405.60)" fill="#231f20">DCs</text>
<text x="415.90" y="405.60" font-size="9.0" text-anchor="end" transform="rotate(-45 415.90 405.60)" fill="#231f20">B cells</text>
<text x="430.90" y="405.60" font-size="9.0" text-anchor="end" transform="rotate(-45 430.90 405.60)" fill="#231f20">CD4<tspan font-size="5.8" dy="-3.4" dx="0.4">+</tspan><tspan dy="3.4" dx="0.5"> T cells</tspan></text>
<text x="445.90" y="405.60" font-size="9.0" text-anchor="end" transform="rotate(-45 445.90 405.60)" fill="#231f20">CD8<tspan font-size="5.8" dy="-3.4" dx="0.4">+</tspan><tspan dy="3.4" dx="0.5"> T cells</tspan></text>
<text x="460.90" y="405.60" font-size="9.0" text-anchor="end" transform="rotate(-45 460.90 405.60)" fill="#231f20">NK cells</text>
<text x="317.80" y="355.60" font-size="9.0" text-anchor="middle" transform="rotate(-90 317.80 355.60)" fill="#231f20">Cells</text>
<text x="328.00" y="355.60" font-size="9.0" text-anchor="middle" transform="rotate(-90 328.00 355.60)" fill="#231f20">(% total living cells)</text>
<line x1="379.30" y1="328.50" x2="386.30" y2="328.50" stroke="#000" stroke-width="0.9"/>
<text x="382.80" y="329.60" font-size="9.4" text-anchor="middle" fill="#444" style="stroke:none">*</text>
<rect x="421.50" y="317.90" width="8.50" height="4.40" fill="#fff" stroke="#000" stroke-width="0.9"/>
<text x="432.30" y="323.40" font-size="9.0" fill="#231f20">Ctrl</text>
<rect x="421.50" y="327.20" width="8.50" height="4.40" fill="#000" stroke="#000" stroke-width="0.9"/>
<text x="432.30" y="332.70" font-size="9.0" fill="#231f20">Ptdss1-KD_B</text>
<text x="1.00" y="459.40" font-size="15" font-weight="bold" fill="#000">K</text>
<rect x="49.30" y="504.55" width="4.60" height="39.20" fill="#fff" stroke="#000" stroke-width="0.9"/>
<rect x="55.10" y="526.25" width="4.60" height="17.50" fill="#000" stroke="#000" stroke-width="0.9"/>
<line x1="51.60" y1="491.55" x2="51.60" y2="517.55" stroke="#000" stroke-width="0.8"/>
<line x1="50.10" y1="491.55" x2="53.10" y2="491.55" stroke="#000" stroke-width="0.8"/>
<line x1="50.10" y1="517.55" x2="53.10" y2="517.55" stroke="#000" stroke-width="0.8"/>
<line x1="57.40" y1="523.25" x2="57.40" y2="526.25" stroke="#000" stroke-width="0.8"/>
<line x1="55.90" y1="523.25" x2="58.90" y2="523.25" stroke="#000" stroke-width="0.8"/>
<rect x="64.30" y="532.55" width="4.60" height="11.20" fill="#fff" stroke="#000" stroke-width="0.9"/>
<rect x="70.10" y="526.25" width="4.60" height="17.50" fill="#000" stroke="#000" stroke-width="0.9"/>
<line x1="66.60" y1="527.55" x2="66.60" y2="537.55" stroke="#000" stroke-width="0.8"/>
<line x1="65.10" y1="527.55" x2="68.10" y2="527.55" stroke="#000" stroke-width="0.8"/>
<line x1="65.10" y1="537.55" x2="68.10" y2="537.55" stroke="#000" stroke-width="0.8"/>
<line x1="72.40" y1="520.25" x2="72.40" y2="526.25" stroke="#000" stroke-width="0.8"/>
<line x1="70.90" y1="520.25" x2="73.90" y2="520.25" stroke="#000" stroke-width="0.8"/>
<rect x="79.30" y="499.25" width="4.60" height="44.50" fill="#fff" stroke="#000" stroke-width="0.9"/>
<rect x="85.10" y="519.55" width="4.60" height="24.20" fill="#000" stroke="#000" stroke-width="0.9"/>
<line x1="81.60" y1="493.25" x2="81.60" y2="505.25" stroke="#000" stroke-width="0.8"/>
<line x1="80.10" y1="493.25" x2="83.10" y2="493.25" stroke="#000" stroke-width="0.8"/>
<line x1="80.10" y1="505.25" x2="83.10" y2="505.25" stroke="#000" stroke-width="0.8"/>
<line x1="87.40" y1="515.95" x2="87.40" y2="519.55" stroke="#000" stroke-width="0.8"/>
<line x1="85.90" y1="515.95" x2="88.90" y2="515.95" stroke="#000" stroke-width="0.8"/>
<rect x="94.30" y="542.75" width="4.60" height="1.00" fill="#fff" stroke="#000" stroke-width="0.9"/>
<rect x="100.10" y="542.35" width="4.60" height="1.40" fill="#000" stroke="#000" stroke-width="0.9"/>
<rect x="109.30" y="543.15" width="4.60" height="0.60" fill="#fff" stroke="#000" stroke-width="0.9"/>
<rect x="115.10" y="543.15" width="4.60" height="0.60" fill="#000" stroke="#000" stroke-width="0.9"/>
<rect x="124.30" y="533.75" width="4.60" height="10.00" fill="#fff" stroke="#000" stroke-width="0.9"/>
<rect x="130.10" y="528.75" width="4.60" height="15.00" fill="#000" stroke="#000" stroke-width="0.9"/>
<line x1="126.60" y1="530.75" x2="126.60" y2="536.75" stroke="#000" stroke-width="0.8"/>
<line x1="125.10" y1="530.75" x2="128.10" y2="530.75" stroke="#000" stroke-width="0.8"/>
<line x1="125.10" y1="536.75" x2="128.10" y2="536.75" stroke="#000" stroke-width="0.8"/>
<line x1="132.40" y1="523.75" x2="132.40" y2="528.75" stroke="#000" stroke-width="0.8"/>
<line x1="130.90" y1="523.75" x2="133.90" y2="523.75" stroke="#000" stroke-width="0.8"/>
<rect x="139.30" y="523.75" width="4.60" height="20.00" fill="#fff" stroke="#000" stroke-width="0.9"/>
<rect x="145.10" y="516.25" width="4.60" height="27.50" fill="#000" stroke="#000" stroke-width="0.9"/>
<line x1="141.60" y1="519.75" x2="141.60" y2="527.75" stroke="#000" stroke-width="0.8"/>
<line x1="140.10" y1="519.75" x2="143.10" y2="519.75" stroke="#000" stroke-width="0.8"/>
<line x1="140.10" y1="527.75" x2="143.10" y2="527.75" stroke="#000" stroke-width="0.8"/>
<line x1="147.40" y1="511.25" x2="147.40" y2="516.25" stroke="#000" stroke-width="0.8"/>
<line x1="145.90" y1="511.25" x2="148.90" y2="511.25" stroke="#000" stroke-width="0.8"/>
<rect x="154.30" y="529.95" width="4.60" height="13.80" fill="#fff" stroke="#000" stroke-width="0.9"/>
<rect x="160.10" y="518.75" width="4.60" height="25.00" fill="#000" stroke="#000" stroke-width="0.9"/>
<line x1="156.60" y1="526.95" x2="156.60" y2="532.95" stroke="#000" stroke-width="0.8"/>
<line x1="155.10" y1="526.95" x2="158.10" y2="526.95" stroke="#000" stroke-width="0.8"/>
<line x1="155.10" y1="532.95" x2="158.10" y2="532.95" stroke="#000" stroke-width="0.8"/>
<line x1="162.40" y1="512.75" x2="162.40" y2="518.75" stroke="#000" stroke-width="0.8"/>
<line x1="160.90" y1="512.75" x2="163.90" y2="512.75" stroke="#000" stroke-width="0.8"/>
<line x1="47.00" y1="463.75" x2="47.00" y2="544.25" stroke="#000" stroke-width="1.25"/>
<line x1="46.50" y1="543.75" x2="167.00" y2="543.75" stroke="#000" stroke-width="1.25"/>
<line x1="44.00" y1="543.75" x2="47.00" y2="543.75" stroke="#000" stroke-width="1.25"/>
<text x="42.80" y="546.85" font-size="9.0" text-anchor="end" fill="#231f20">0</text>
<line x1="44.00" y1="523.75" x2="47.00" y2="523.75" stroke="#000" stroke-width="1.25"/>
<text x="42.80" y="526.85" font-size="9.0" text-anchor="end" fill="#231f20">10</text>
<line x1="44.00" y1="503.75" x2="47.00" y2="503.75" stroke="#000" stroke-width="1.25"/>
<text x="42.80" y="506.85" font-size="9.0" text-anchor="end" fill="#231f20">20</text>
<line x1="44.00" y1="483.75" x2="47.00" y2="483.75" stroke="#000" stroke-width="1.25"/>
<text x="42.80" y="486.85" font-size="9.0" text-anchor="end" fill="#231f20">30</text>
<line x1="44.00" y1="463.75" x2="47.00" y2="463.75" stroke="#000" stroke-width="1.25"/>
<text x="42.80" y="466.85" font-size="9.0" text-anchor="end" fill="#231f20">40</text>
<line x1="54.50" y1="543.75" x2="54.50" y2="546.75" stroke="#000" stroke-width="1.25"/>
<line x1="69.50" y1="543.75" x2="69.50" y2="546.75" stroke="#000" stroke-width="1.25"/>
<line x1="84.50" y1="543.75" x2="84.50" y2="546.75" stroke="#000" stroke-width="1.25"/>
<line x1="99.50" y1="543.75" x2="99.50" y2="546.75" stroke="#000" stroke-width="1.25"/>
<line x1="114.50" y1="543.75" x2="114.50" y2="546.75" stroke="#000" stroke-width="1.25"/>
<line x1="129.50" y1="543.75" x2="129.50" y2="546.75" stroke="#000" stroke-width="1.25"/>
<line x1="144.50" y1="543.75" x2="144.50" y2="546.75" stroke="#000" stroke-width="1.25"/>
<line x1="159.50" y1="543.75" x2="159.50" y2="546.75" stroke="#000" stroke-width="1.25"/>
<circle cx="51.60" cy="477.75" r="2.15" fill="#000"/>
<circle cx="51.10" cy="482.75" r="2.15" fill="#000"/>
<circle cx="52.10" cy="483.75" r="2.15" fill="#000"/>
<circle cx="51.30" cy="501.75" r="2.15" fill="#000"/>
<circle cx="51.90" cy="534.75" r="2.15" fill="#000"/>
<circle cx="51.60" cy="536.75" r="2.15" fill="#000"/>
<rect x="55.80" y="501.15" width="3.2" height="3.2" fill="#fff" stroke="#000" stroke-width="1.2"/>
<rect x="55.20" y="524.15" width="3.2" height="3.2" fill="#fff" stroke="#000" stroke-width="1.2"/>
<rect x="56.40" y="525.15" width="3.2" height="3.2" fill="#fff" stroke="#000" stroke-width="1.2"/>
<rect x="55.50" y="538.15" width="3.2" height="3.2" fill="#fff" stroke="#000" stroke-width="1.2"/>
<rect x="56.10" y="539.15" width="3.2" height="3.2" fill="#fff" stroke="#000" stroke-width="1.2"/>
<circle cx="66.60" cy="518.75" r="2.15" fill="#000"/>
<circle cx="66.10" cy="522.75" r="2.15" fill="#000"/>
<circle cx="67.10" cy="531.75" r="2.15" fill="#000"/>
<circle cx="66.30" cy="533.75" r="2.15" fill="#000"/>
<circle cx="66.90" cy="536.75" r="2.15" fill="#000"/>
<circle cx="66.60" cy="538.75" r="2.15" fill="#000"/>
<rect x="70.80" y="493.75" width="3.2" height="3.2" fill="#fff" stroke="#000" stroke-width="1.2"/>
<rect x="70.20" y="517.75" width="3.2" height="3.2" fill="#fff" stroke="#000" stroke-width="1.2"/>
<rect x="71.40" y="529.15" width="3.2" height="3.2" fill="#fff" stroke="#000" stroke-width="1.2"/>
<rect x="70.50" y="533.15" width="3.2" height="3.2" fill="#fff" stroke="#000" stroke-width="1.2"/>
<rect x="71.10" y="538.15" width="3.2" height="3.2" fill="#fff" stroke="#000" stroke-width="1.2"/>
<circle cx="81.60" cy="478.75" r="2.15" fill="#000"/>
<circle cx="81.10" cy="488.75" r="2.15" fill="#000"/>
<circle cx="82.10" cy="492.75" r="2.15" fill="#000"/>
<circle cx="81.30" cy="505.75" r="2.15" fill="#000"/>
<circle cx="81.90" cy="510.75" r="2.15" fill="#000"/>
<rect x="85.80" y="510.15" width="3.2" height="3.2" fill="#fff" stroke="#000" stroke-width="1.2"/>
<rect x="85.20" y="518.15" width="3.2" height="3.2" fill="#fff" stroke="#000" stroke-width="1.2"/>
<rect x="86.40" y="519.15" width="3.2" height="3.2" fill="#fff" stroke="#000" stroke-width="1.2"/>
<rect x="85.50" y="523.15" width="3.2" height="3.2" fill="#fff" stroke="#000" stroke-width="1.2"/>
<rect x="86.10" y="531.15" width="3.2" height="3.2" fill="#fff" stroke="#000" stroke-width="1.2"/>
<circle cx="96.60" cy="542.55" r="2.15" fill="#000"/>
<circle cx="96.10" cy="542.95" r="2.15" fill="#000"/>
<rect x="100.80" y="540.35" width="3.2" height="3.2" fill="#fff" stroke="#000" stroke-width="1.2"/>
<rect x="100.20" y="540.95" width="3.2" height="3.2" fill="#fff" stroke="#000" stroke-width="1.2"/>
<circle cx="111.60" cy="543.35" r="2.15" fill="#000"/>
<circle cx="111.10" cy="543.55" r="2.15" fill="#000"/>
<rect x="115.80" y="541.75" width="3.2" height="3.2" fill="#fff" stroke="#000" stroke-width="1.2"/>
<rect x="115.20" y="541.95" width="3.2" height="3.2" fill="#fff" stroke="#000" stroke-width="1.2"/>
<circle cx="126.60" cy="526.75" r="2.15" fill="#000"/>
<circle cx="126.10" cy="529.75" r="2.15" fill="#000"/>
<circle cx="127.10" cy="531.75" r="2.15" fill="#000"/>
<circle cx="126.30" cy="533.75" r="2.15" fill="#000"/>
<circle cx="126.90" cy="535.75" r="2.15" fill="#000"/>
<circle cx="126.60" cy="537.75" r="2.15" fill="#000"/>
<rect x="130.80" y="503.15" width="3.2" height="3.2" fill="#fff" stroke="#000" stroke-width="1.2"/>
<rect x="130.20" y="523.15" width="3.2" height="3.2" fill="#fff" stroke="#000" stroke-width="1.2"/>
<rect x="131.40" y="528.15" width="3.2" height="3.2" fill="#fff" stroke="#000" stroke-width="1.2"/>
<rect x="130.50" y="534.15" width="3.2" height="3.2" fill="#fff" stroke="#000" stroke-width="1.2"/>
<circle cx="141.60" cy="514.75" r="2.15" fill="#000"/>
<circle cx="141.10" cy="515.75" r="2.15" fill="#000"/>
<circle cx="142.10" cy="519.75" r="2.15" fill="#000"/>
<circle cx="141.30" cy="523.75" r="2.15" fill="#000"/>
<circle cx="141.90" cy="527.75" r="2.15" fill="#000"/>
<circle cx="141.60" cy="530.75" r="2.15" fill="#000"/>
<rect x="145.80" y="498.15" width="3.2" height="3.2" fill="#fff" stroke="#000" stroke-width="1.2"/>
<rect x="145.20" y="503.15" width="3.2" height="3.2" fill="#fff" stroke="#000" stroke-width="1.2"/>
<rect x="146.40" y="509.15" width="3.2" height="3.2" fill="#fff" stroke="#000" stroke-width="1.2"/>
<rect x="145.50" y="514.15" width="3.2" height="3.2" fill="#fff" stroke="#000" stroke-width="1.2"/>
<rect x="146.10" y="518.15" width="3.2" height="3.2" fill="#fff" stroke="#000" stroke-width="1.2"/>
<circle cx="156.60" cy="515.75" r="2.15" fill="#000"/>
<circle cx="156.10" cy="527.75" r="2.15" fill="#000"/>
<circle cx="157.10" cy="529.75" r="2.15" fill="#000"/>
<circle cx="156.30" cy="532.75" r="2.15" fill="#000"/>
<circle cx="156.90" cy="534.75" r="2.15" fill="#000"/>
<circle cx="156.60" cy="536.75" r="2.15" fill="#000"/>
<rect x="160.80" y="489.15" width="3.2" height="3.2" fill="#fff" stroke="#000" stroke-width="1.2"/>
<rect x="160.20" y="511.15" width="3.2" height="3.2" fill="#fff" stroke="#000" stroke-width="1.2"/>
<rect x="161.40" y="516.15" width="3.2" height="3.2" fill="#fff" stroke="#000" stroke-width="1.2"/>
<rect x="160.50" y="519.15" width="3.2" height="3.2" fill="#fff" stroke="#000" stroke-width="1.2"/>
<rect x="161.10" y="523.15" width="3.2" height="3.2" fill="#fff" stroke="#000" stroke-width="1.2"/>
<text x="57.90" y="554.25" font-size="9.0" text-anchor="end" transform="rotate(-45 57.90 554.25)" fill="#231f20">Neutrophils</text>
<text x="72.90" y="554.25" font-size="9.0" text-anchor="end" transform="rotate(-45 72.90 554.25)" fill="#231f20">Monocytes</text>
<text x="87.90" y="554.25" font-size="9.0" text-anchor="end" transform="rotate(-45 87.90 554.25)" fill="#231f20">Macrophages</text>
<text x="102.90" y="554.25" font-size="9.0" text-anchor="end" transform="rotate(-45 102.90 554.25)" fill="#231f20">DCs</text>
<text x="117.90" y="554.25" font-size="9.0" text-anchor="end" transform="rotate(-45 117.90 554.25)" fill="#231f20">B cells</text>
<text x="132.90" y="554.25" font-size="9.0" text-anchor="end" transform="rotate(-45 132.90 554.25)" fill="#231f20">CD4<tspan font-size="5.8" dy="-3.4" dx="0.4">+</tspan><tspan dy="3.4" dx="0.5"> T cells</tspan></text>
<text x="147.90" y="554.25" font-size="9.0" text-anchor="end" transform="rotate(-45 147.90 554.25)" fill="#231f20">CD8<tspan font-size="5.8" dy="-3.4" dx="0.4">+</tspan><tspan dy="3.4" dx="0.5"> T cells</tspan></text>
<text x="162.90" y="554.25" font-size="9.0" text-anchor="end" transform="rotate(-45 162.90 554.25)" fill="#231f20">NK cells</text>
<text x="18.00" y="506.00" font-size="9.0" text-anchor="middle" transform="rotate(-90 18.00 506.00)" fill="#231f20">Cells</text>
<text x="29.30" y="506.00" font-size="9.0" text-anchor="middle" transform="rotate(-90 29.30 506.00)" fill="#231f20">(% total living cells)</text>
<line x1="82.50" y1="473.75" x2="88.75" y2="473.75" stroke="#000" stroke-width="0.9"/>
<text x="85.60" y="474.80" font-size="9.4" text-anchor="middle" fill="#444" style="stroke:none">*</text>
<rect x="122.80" y="466.00" width="9.00" height="4.40" fill="#fff" stroke="#000" stroke-width="0.9"/>
<text x="135.00" y="471.30" font-size="9.0" fill="#231f20">Ctrl</text>
<rect x="122.80" y="476.00" width="9.00" height="4.40" fill="#000" stroke="#000" stroke-width="0.9"/>
<text x="135.00" y="481.40" font-size="9.0" fill="#231f20">Ptdss1-KD_D</text>
<text x="223.50" y="458.20" font-size="15" font-weight="bold" fill="#000">L</text>
<rect x="269.80" y="536.27" width="4.60" height="7.73" fill="#fff" stroke="#000" stroke-width="0.9"/>
<rect x="275.60" y="512.00" width="4.60" height="32.00" fill="#000" stroke="#000" stroke-width="0.9"/>
<line x1="272.10" y1="533.60" x2="272.10" y2="538.93" stroke="#000" stroke-width="0.8"/>
<line x1="270.60" y1="533.60" x2="273.60" y2="533.60" stroke="#000" stroke-width="0.8"/>
<line x1="270.60" y1="538.93" x2="273.60" y2="538.93" stroke="#000" stroke-width="0.8"/>
<line x1="277.90" y1="505.87" x2="277.90" y2="512.00" stroke="#000" stroke-width="0.8"/>
<line x1="276.40" y1="505.87" x2="279.40" y2="505.87" stroke="#000" stroke-width="0.8"/>
<rect x="284.80" y="535.73" width="4.60" height="8.27" fill="#fff" stroke="#000" stroke-width="0.9"/>
<rect x="290.60" y="527.73" width="4.60" height="16.27" fill="#000" stroke="#000" stroke-width="0.9"/>
<line x1="287.10" y1="533.60" x2="287.10" y2="537.87" stroke="#000" stroke-width="0.8"/>
<line x1="285.60" y1="533.60" x2="288.60" y2="533.60" stroke="#000" stroke-width="0.8"/>
<line x1="285.60" y1="537.87" x2="288.60" y2="537.87" stroke="#000" stroke-width="0.8"/>
<line x1="292.90" y1="520.27" x2="292.90" y2="527.73" stroke="#000" stroke-width="0.8"/>
<line x1="291.40" y1="520.27" x2="294.40" y2="520.27" stroke="#000" stroke-width="0.8"/>
<rect x="299.80" y="492.00" width="4.60" height="52.00" fill="#fff" stroke="#000" stroke-width="0.9"/>
<rect x="305.60" y="513.87" width="4.60" height="30.13" fill="#000" stroke="#000" stroke-width="0.9"/>
<line x1="302.10" y1="489.33" x2="302.10" y2="494.67" stroke="#000" stroke-width="0.8"/>
<line x1="300.60" y1="489.33" x2="303.60" y2="489.33" stroke="#000" stroke-width="0.8"/>
<line x1="300.60" y1="494.67" x2="303.60" y2="494.67" stroke="#000" stroke-width="0.8"/>
<line x1="307.90" y1="511.73" x2="307.90" y2="513.87" stroke="#000" stroke-width="0.8"/>
<line x1="306.40" y1="511.73" x2="309.40" y2="511.73" stroke="#000" stroke-width="0.8"/>
<rect x="314.80" y="541.33" width="4.60" height="2.67" fill="#fff" stroke="#000" stroke-width="0.9"/>
<rect x="320.60" y="542.67" width="4.60" height="1.33" fill="#000" stroke="#000" stroke-width="0.9"/>
<line x1="317.10" y1="540.27" x2="317.10" y2="542.40" stroke="#000" stroke-width="0.8"/>
<line x1="315.60" y1="540.27" x2="318.60" y2="540.27" stroke="#000" stroke-width="0.8"/>
<line x1="315.60" y1="542.40" x2="318.60" y2="542.40" stroke="#000" stroke-width="0.8"/>
<rect x="329.80" y="542.67" width="4.60" height="1.33" fill="#fff" stroke="#000" stroke-width="0.9"/>
<rect x="335.60" y="542.93" width="4.60" height="1.07" fill="#000" stroke="#000" stroke-width="0.9"/>
<rect x="344.80" y="535.73" width="4.60" height="8.27" fill="#fff" stroke="#000" stroke-width="0.9"/>
<rect x="350.60" y="538.13" width="4.60" height="5.87" fill="#000" stroke="#000" stroke-width="0.9"/>
<line x1="347.10" y1="534.13" x2="347.10" y2="537.33" stroke="#000" stroke-width="0.8"/>
<line x1="345.60" y1="534.13" x2="348.60" y2="534.13" stroke="#000" stroke-width="0.8"/>
<line x1="345.60" y1="537.33" x2="348.60" y2="537.33" stroke="#000" stroke-width="0.8"/>
<line x1="352.90" y1="536.80" x2="352.90" y2="538.13" stroke="#000" stroke-width="0.8"/>
<line x1="351.40" y1="536.80" x2="354.40" y2="536.80" stroke="#000" stroke-width="0.8"/>
<rect x="359.80" y="520.27" width="4.60" height="23.73" fill="#fff" stroke="#000" stroke-width="0.9"/>
<rect x="365.60" y="525.87" width="4.60" height="18.13" fill="#000" stroke="#000" stroke-width="0.9"/>
<line x1="362.10" y1="509.60" x2="362.10" y2="530.93" stroke="#000" stroke-width="0.8"/>
<line x1="360.60" y1="509.60" x2="363.60" y2="509.60" stroke="#000" stroke-width="0.8"/>
<line x1="360.60" y1="530.93" x2="363.60" y2="530.93" stroke="#000" stroke-width="0.8"/>
<line x1="367.90" y1="517.33" x2="367.90" y2="525.87" stroke="#000" stroke-width="0.8"/>
<line x1="366.40" y1="517.33" x2="369.40" y2="517.33" stroke="#000" stroke-width="0.8"/>
<rect x="374.80" y="534.40" width="4.60" height="9.60" fill="#fff" stroke="#000" stroke-width="0.9"/>
<rect x="380.60" y="520.27" width="4.60" height="23.73" fill="#000" stroke="#000" stroke-width="0.9"/>
<line x1="377.10" y1="531.73" x2="377.10" y2="537.07" stroke="#000" stroke-width="0.8"/>
<line x1="375.60" y1="531.73" x2="378.60" y2="531.73" stroke="#000" stroke-width="0.8"/>
<line x1="375.60" y1="537.07" x2="378.60" y2="537.07" stroke="#000" stroke-width="0.8"/>
<line x1="382.90" y1="515.47" x2="382.90" y2="520.27" stroke="#000" stroke-width="0.8"/>
<line x1="381.40" y1="515.47" x2="384.40" y2="515.47" stroke="#000" stroke-width="0.8"/>
<line x1="267.50" y1="463.50" x2="267.50" y2="544.50" stroke="#000" stroke-width="1.25"/>
<line x1="267.00" y1="544.00" x2="387.00" y2="544.00" stroke="#000" stroke-width="1.25"/>
<line x1="264.50" y1="544.00" x2="267.50" y2="544.00" stroke="#000" stroke-width="1.25"/>
<text x="263.30" y="547.10" font-size="9.0" text-anchor="end" fill="#231f20">0</text>
<line x1="264.50" y1="517.33" x2="267.50" y2="517.33" stroke="#000" stroke-width="1.25"/>
<text x="263.30" y="520.43" font-size="9.0" text-anchor="end" fill="#231f20">10</text>
<line x1="264.50" y1="490.67" x2="267.50" y2="490.67" stroke="#000" stroke-width="1.25"/>
<text x="263.30" y="493.77" font-size="9.0" text-anchor="end" fill="#231f20">20</text>
<line x1="264.50" y1="464.00" x2="267.50" y2="464.00" stroke="#000" stroke-width="1.25"/>
<text x="263.30" y="467.10" font-size="9.0" text-anchor="end" fill="#231f20">30</text>
<line x1="275.00" y1="544.00" x2="275.00" y2="547.00" stroke="#000" stroke-width="1.25"/>
<line x1="290.00" y1="544.00" x2="290.00" y2="547.00" stroke="#000" stroke-width="1.25"/>
<line x1="305.00" y1="544.00" x2="305.00" y2="547.00" stroke="#000" stroke-width="1.25"/>
<line x1="320.00" y1="544.00" x2="320.00" y2="547.00" stroke="#000" stroke-width="1.25"/>
<line x1="335.00" y1="544.00" x2="335.00" y2="547.00" stroke="#000" stroke-width="1.25"/>
<line x1="350.00" y1="544.00" x2="350.00" y2="547.00" stroke="#000" stroke-width="1.25"/>
<line x1="365.00" y1="544.00" x2="365.00" y2="547.00" stroke="#000" stroke-width="1.25"/>
<line x1="380.00" y1="544.00" x2="380.00" y2="547.00" stroke="#000" stroke-width="1.25"/>
<circle cx="272.10" cy="530.67" r="2.15" fill="#000"/>
<circle cx="271.60" cy="534.67" r="2.15" fill="#000"/>
<circle cx="272.60" cy="537.33" r="2.15" fill="#000"/>
<circle cx="271.80" cy="540.00" r="2.15" fill="#000"/>
<rect x="276.30" y="499.73" width="3.2" height="3.2" fill="#fff" stroke="#000" stroke-width="1.2"/>
<rect x="275.70" y="518.40" width="3.2" height="3.2" fill="#fff" stroke="#000" stroke-width="1.2"/>
<rect x="276.90" y="539.73" width="3.2" height="3.2" fill="#fff" stroke="#000" stroke-width="1.2"/>
<circle cx="287.10" cy="532.00" r="2.15" fill="#000"/>
<circle cx="286.60" cy="534.67" r="2.15" fill="#000"/>
<circle cx="287.60" cy="537.33" r="2.15" fill="#000"/>
<circle cx="286.80" cy="540.00" r="2.15" fill="#000"/>
<rect x="291.30" y="512.27" width="3.2" height="3.2" fill="#fff" stroke="#000" stroke-width="1.2"/>
<rect x="290.70" y="530.40" width="3.2" height="3.2" fill="#fff" stroke="#000" stroke-width="1.2"/>
<rect x="291.90" y="537.07" width="3.2" height="3.2" fill="#fff" stroke="#000" stroke-width="1.2"/>
<circle cx="302.10" cy="480.00" r="2.15" fill="#000"/>
<circle cx="301.60" cy="488.00" r="2.15" fill="#000"/>
<circle cx="302.60" cy="492.00" r="2.15" fill="#000"/>
<circle cx="301.80" cy="494.67" r="2.15" fill="#000"/>
<circle cx="302.40" cy="498.67" r="2.15" fill="#000"/>
<rect x="306.30" y="510.40" width="3.2" height="3.2" fill="#fff" stroke="#000" stroke-width="1.2"/>
<rect x="305.70" y="513.60" width="3.2" height="3.2" fill="#fff" stroke="#000" stroke-width="1.2"/>
<circle cx="317.10" cy="539.20" r="2.15" fill="#000"/>
<circle cx="316.60" cy="541.87" r="2.15" fill="#000"/>
<circle cx="317.60" cy="542.67" r="2.15" fill="#000"/>
<rect x="321.30" y="540.80" width="3.2" height="3.2" fill="#fff" stroke="#000" stroke-width="1.2"/>
<rect x="320.70" y="541.33" width="3.2" height="3.2" fill="#fff" stroke="#000" stroke-width="1.2"/>
<circle cx="332.10" cy="542.13" r="2.15" fill="#000"/>
<circle cx="331.60" cy="542.93" r="2.15" fill="#000"/>
<rect x="336.30" y="541.33" width="3.2" height="3.2" fill="#fff" stroke="#000" stroke-width="1.2"/>
<rect x="335.70" y="541.87" width="3.2" height="3.2" fill="#fff" stroke="#000" stroke-width="1.2"/>
<circle cx="347.10" cy="533.33" r="2.15" fill="#000"/>
<circle cx="346.60" cy="534.67" r="2.15" fill="#000"/>
<circle cx="347.60" cy="536.00" r="2.15" fill="#000"/>
<circle cx="346.80" cy="538.67" r="2.15" fill="#000"/>
<rect x="351.30" y="534.40" width="3.2" height="3.2" fill="#fff" stroke="#000" stroke-width="1.2"/>
<rect x="350.70" y="540.27" width="3.2" height="3.2" fill="#fff" stroke="#000" stroke-width="1.2"/>
<circle cx="362.10" cy="493.87" r="2.15" fill="#000"/>
<circle cx="361.60" cy="514.67" r="2.15" fill="#000"/>
<circle cx="362.60" cy="520.00" r="2.15" fill="#000"/>
<circle cx="361.80" cy="533.33" r="2.15" fill="#000"/>
<rect x="366.30" y="508.27" width="3.2" height="3.2" fill="#fff" stroke="#000" stroke-width="1.2"/>
<rect x="365.70" y="533.07" width="3.2" height="3.2" fill="#fff" stroke="#000" stroke-width="1.2"/>
<rect x="366.90" y="539.73" width="3.2" height="3.2" fill="#fff" stroke="#000" stroke-width="1.2"/>
<circle cx="377.10" cy="530.13" r="2.15" fill="#000"/>
<circle cx="376.60" cy="536.00" r="2.15" fill="#000"/>
<circle cx="377.60" cy="538.67" r="2.15" fill="#000"/>
<circle cx="376.80" cy="540.00" r="2.15" fill="#000"/>
<rect x="381.30" y="511.73" width="3.2" height="3.2" fill="#fff" stroke="#000" stroke-width="1.2"/>
<rect x="380.70" y="519.73" width="3.2" height="3.2" fill="#fff" stroke="#000" stroke-width="1.2"/>
<rect x="381.90" y="525.07" width="3.2" height="3.2" fill="#fff" stroke="#000" stroke-width="1.2"/>
<text x="278.40" y="554.50" font-size="9.0" text-anchor="end" transform="rotate(-45 278.40 554.50)" fill="#231f20">Neutrophils</text>
<text x="293.40" y="554.50" font-size="9.0" text-anchor="end" transform="rotate(-45 293.40 554.50)" fill="#231f20">Monocytes</text>
<text x="308.40" y="554.50" font-size="9.0" text-anchor="end" transform="rotate(-45 308.40 554.50)" fill="#231f20">Macrophages</text>
<text x="323.40" y="554.50" font-size="9.0" text-anchor="end" transform="rotate(-45 323.40 554.50)" fill="#231f20">DCs</text>
<text x="338.40" y="554.50" font-size="9.0" text-anchor="end" transform="rotate(-45 338.40 554.50)" fill="#231f20">B cells</text>
<text x="353.40" y="554.50" font-size="9.0" text-anchor="end" transform="rotate(-45 353.40 554.50)" fill="#231f20">CD4<tspan font-size="5.8" dy="-3.4" dx="0.4">+</tspan><tspan dy="3.4" dx="0.5"> T cells</tspan></text>
<text x="368.40" y="554.50" font-size="9.0" text-anchor="end" transform="rotate(-45 368.40 554.50)" fill="#231f20">CD8<tspan font-size="5.8" dy="-3.4" dx="0.4">+</tspan><tspan dy="3.4" dx="0.5"> T cells</tspan></text>
<text x="383.40" y="554.50" font-size="9.0" text-anchor="end" transform="rotate(-45 383.40 554.50)" fill="#231f20">NK cells</text>
<text x="237.50" y="505.70" font-size="9.0" text-anchor="middle" transform="rotate(-90 237.50 505.70)" fill="#231f20">Cells</text>
<text x="248.50" y="505.70" font-size="9.0" text-anchor="middle" transform="rotate(-90 248.50 505.70)" fill="#231f20">(% total living cells)</text>
<text x="280.50" y="464.20" font-size="9.0" fill="#231f20">CD1d KO mice</text>
<line x1="272.00" y1="496.00" x2="278.75" y2="496.00" stroke="#000" stroke-width="0.9"/>
<text x="275.40" y="497.10" font-size="9.4" text-anchor="middle" fill="#444" style="stroke:none">*</text>
<line x1="302.50" y1="473.75" x2="309.50" y2="473.75" stroke="#000" stroke-width="0.9"/>
<text x="306.00" y="474.80" font-size="9.4" text-anchor="middle" fill="#444" style="stroke:none">*</text>
<rect x="344.00" y="466.00" width="9.00" height="4.40" fill="#fff" stroke="#000" stroke-width="0.9"/>
<text x="355.00" y="471.30" font-size="9.0" fill="#231f20">Ctrl</text>
<rect x="344.00" y="476.00" width="9.00" height="4.40" fill="#000" stroke="#000" stroke-width="0.9"/>
<text x="355.00" y="481.40" font-size="9.0" fill="#231f20">Ptdss1-KD_B</text>
<text x="1.00" y="612.80" font-size="15" font-weight="bold" fill="#000">M</text>
<rect x="64.90" y="695.13" width="5.40" height="1.27" fill="#fff" stroke="#000" stroke-width="0.9"/>
<rect x="72.70" y="694.02" width="5.40" height="2.38" fill="#000" stroke="#000" stroke-width="0.9"/>
<line x1="75.40" y1="693.22" x2="75.40" y2="694.02" stroke="#000" stroke-width="0.8"/>
<line x1="73.90" y1="693.22" x2="76.90" y2="693.22" stroke="#000" stroke-width="0.8"/>
<rect x="85.10" y="694.81" width="5.40" height="1.59" fill="#fff" stroke="#000" stroke-width="0.9"/>
<rect x="92.90" y="694.81" width="5.40" height="1.59" fill="#000" stroke="#000" stroke-width="0.9"/>
<line x1="95.60" y1="694.02" x2="95.60" y2="694.81" stroke="#000" stroke-width="0.8"/>
<line x1="94.10" y1="694.02" x2="97.10" y2="694.02" stroke="#000" stroke-width="0.8"/>
<rect x="105.30" y="680.04" width="5.40" height="16.36" fill="#fff" stroke="#000" stroke-width="0.9"/>
<rect x="113.10" y="657.18" width="5.40" height="39.22" fill="#000" stroke="#000" stroke-width="0.9"/>
<line x1="108.00" y1="673.69" x2="108.00" y2="686.40" stroke="#000" stroke-width="0.8"/>
<line x1="106.50" y1="673.69" x2="109.50" y2="673.69" stroke="#000" stroke-width="0.8"/>
<line x1="106.50" y1="686.40" x2="109.50" y2="686.40" stroke="#000" stroke-width="0.8"/>
<line x1="115.80" y1="651.62" x2="115.80" y2="657.18" stroke="#000" stroke-width="0.8"/>
<line x1="114.30" y1="651.62" x2="117.30" y2="651.62" stroke="#000" stroke-width="0.8"/>
<rect x="125.50" y="695.61" width="5.40" height="0.79" fill="#fff" stroke="#000" stroke-width="0.9"/>
<rect x="133.30" y="688.94" width="5.40" height="7.46" fill="#000" stroke="#000" stroke-width="0.9"/>
<line x1="136.00" y1="687.03" x2="136.00" y2="688.94" stroke="#000" stroke-width="0.8"/>
<line x1="134.50" y1="687.03" x2="137.50" y2="687.03" stroke="#000" stroke-width="0.8"/>
<rect x="145.70" y="693.22" width="5.40" height="3.18" fill="#fff" stroke="#000" stroke-width="0.9"/>
<rect x="153.50" y="684.01" width="5.40" height="12.39" fill="#000" stroke="#000" stroke-width="0.9"/>
<line x1="148.40" y1="691.95" x2="148.40" y2="694.49" stroke="#000" stroke-width="0.8"/>
<line x1="146.90" y1="691.95" x2="149.90" y2="691.95" stroke="#000" stroke-width="0.8"/>
<line x1="146.90" y1="694.49" x2="149.90" y2="694.49" stroke="#000" stroke-width="0.8"/>
<line x1="156.20" y1="681.16" x2="156.20" y2="684.01" stroke="#000" stroke-width="0.8"/>
<line x1="154.70" y1="681.16" x2="157.70" y2="681.16" stroke="#000" stroke-width="0.8"/>
<rect x="165.90" y="694.81" width="5.40" height="1.59" fill="#fff" stroke="#000" stroke-width="0.9"/>
<rect x="173.70" y="689.73" width="5.40" height="6.67" fill="#000" stroke="#000" stroke-width="0.9"/>
<line x1="176.40" y1="688.14" x2="176.40" y2="689.73" stroke="#000" stroke-width="0.8"/>
<line x1="174.90" y1="688.14" x2="177.90" y2="688.14" stroke="#000" stroke-width="0.8"/>
<line x1="61.75" y1="616.50" x2="61.75" y2="696.90" stroke="#000" stroke-width="1.25"/>
<line x1="61.25" y1="696.40" x2="182.50" y2="696.40" stroke="#000" stroke-width="1.25"/>
<line x1="58.75" y1="696.40" x2="61.75" y2="696.40" stroke="#000" stroke-width="1.25"/>
<text x="57.55" y="699.50" font-size="9.0" text-anchor="end" fill="#231f20">0</text>
<line x1="58.75" y1="680.52" x2="61.75" y2="680.52" stroke="#000" stroke-width="1.25"/>
<text x="57.55" y="683.62" font-size="9.0" text-anchor="end" fill="#231f20">10</text>
<line x1="58.75" y1="664.64" x2="61.75" y2="664.64" stroke="#000" stroke-width="1.25"/>
<text x="57.55" y="667.74" font-size="9.0" text-anchor="end" fill="#231f20">20</text>
<line x1="58.75" y1="648.76" x2="61.75" y2="648.76" stroke="#000" stroke-width="1.25"/>
<text x="57.55" y="651.86" font-size="9.0" text-anchor="end" fill="#231f20">30</text>
<line x1="58.75" y1="632.88" x2="61.75" y2="632.88" stroke="#000" stroke-width="1.25"/>
<text x="57.55" y="635.98" font-size="9.0" text-anchor="end" fill="#231f20">40</text>
<line x1="58.75" y1="617.00" x2="61.75" y2="617.00" stroke="#000" stroke-width="1.25"/>
<text x="57.55" y="620.10" font-size="9.0" text-anchor="end" fill="#231f20">50</text>
<line x1="71.50" y1="696.40" x2="71.50" y2="699.40" stroke="#000" stroke-width="1.25"/>
<line x1="91.70" y1="696.40" x2="91.70" y2="699.40" stroke="#000" stroke-width="1.25"/>
<line x1="111.90" y1="696.40" x2="111.90" y2="699.40" stroke="#000" stroke-width="1.25"/>
<line x1="132.10" y1="696.40" x2="132.10" y2="699.40" stroke="#000" stroke-width="1.25"/>
<line x1="152.30" y1="696.40" x2="152.30" y2="699.40" stroke="#000" stroke-width="1.25"/>
<line x1="172.50" y1="696.40" x2="172.50" y2="699.40" stroke="#000" stroke-width="1.25"/>
<circle cx="67.60" cy="693.54" r="2.15" fill="#000"/>
<circle cx="67.10" cy="695.13" r="2.15" fill="#000"/>
<circle cx="68.10" cy="695.92" r="2.15" fill="#000"/>
<rect x="73.80" y="690.35" width="3.2" height="3.2" fill="#fff" stroke="#000" stroke-width="1.2"/>
<rect x="73.20" y="692.42" width="3.2" height="3.2" fill="#fff" stroke="#000" stroke-width="1.2"/>
<rect x="74.40" y="693.53" width="3.2" height="3.2" fill="#fff" stroke="#000" stroke-width="1.2"/>
<circle cx="87.80" cy="690.37" r="2.15" fill="#000"/>
<circle cx="87.30" cy="695.61" r="2.15" fill="#000"/>
<circle cx="88.30" cy="696.08" r="2.15" fill="#000"/>
<rect x="94.00" y="690.83" width="3.2" height="3.2" fill="#fff" stroke="#000" stroke-width="1.2"/>
<rect x="93.40" y="693.21" width="3.2" height="3.2" fill="#fff" stroke="#000" stroke-width="1.2"/>
<rect x="94.60" y="694.32" width="3.2" height="3.2" fill="#fff" stroke="#000" stroke-width="1.2"/>
<circle cx="108.00" cy="644.79" r="2.15" fill="#000"/>
<circle cx="107.50" cy="675.76" r="2.15" fill="#000"/>
<circle cx="108.50" cy="685.28" r="2.15" fill="#000"/>
<circle cx="107.70" cy="690.05" r="2.15" fill="#000"/>
<circle cx="108.30" cy="694.02" r="2.15" fill="#000"/>
<rect x="114.20" y="628.90" width="3.2" height="3.2" fill="#fff" stroke="#000" stroke-width="1.2"/>
<rect x="113.60" y="641.60" width="3.2" height="3.2" fill="#fff" stroke="#000" stroke-width="1.2"/>
<rect x="114.80" y="649.54" width="3.2" height="3.2" fill="#fff" stroke="#000" stroke-width="1.2"/>
<rect x="113.90" y="651.92" width="3.2" height="3.2" fill="#fff" stroke="#000" stroke-width="1.2"/>
<rect x="114.50" y="666.22" width="3.2" height="3.2" fill="#fff" stroke="#000" stroke-width="1.2"/>
<rect x="114.20" y="693.21" width="3.2" height="3.2" fill="#fff" stroke="#000" stroke-width="1.2"/>
<circle cx="128.20" cy="695.45" r="2.15" fill="#000"/>
<circle cx="127.70" cy="695.92" r="2.15" fill="#000"/>
<rect x="134.40" y="684.48" width="3.2" height="3.2" fill="#fff" stroke="#000" stroke-width="1.2"/>
<rect x="133.80" y="686.86" width="3.2" height="3.2" fill="#fff" stroke="#000" stroke-width="1.2"/>
<rect x="135.00" y="691.62" width="3.2" height="3.2" fill="#fff" stroke="#000" stroke-width="1.2"/>
<rect x="134.10" y="693.53" width="3.2" height="3.2" fill="#fff" stroke="#000" stroke-width="1.2"/>
<circle cx="148.40" cy="689.25" r="2.15" fill="#000"/>
<circle cx="147.90" cy="691.64" r="2.15" fill="#000"/>
<circle cx="148.90" cy="694.81" r="2.15" fill="#000"/>
<circle cx="148.10" cy="695.61" r="2.15" fill="#000"/>
<rect x="154.60" y="667.01" width="3.2" height="3.2" fill="#fff" stroke="#000" stroke-width="1.2"/>
<rect x="154.00" y="683.68" width="3.2" height="3.2" fill="#fff" stroke="#000" stroke-width="1.2"/>
<rect x="155.20" y="686.86" width="3.2" height="3.2" fill="#fff" stroke="#000" stroke-width="1.2"/>
<rect x="154.30" y="691.62" width="3.2" height="3.2" fill="#fff" stroke="#000" stroke-width="1.2"/>
<circle cx="168.60" cy="693.54" r="2.15" fill="#000"/>
<circle cx="168.10" cy="695.13" r="2.15" fill="#000"/>
<circle cx="169.10" cy="695.92" r="2.15" fill="#000"/>
<rect x="174.80" y="686.07" width="3.2" height="3.2" fill="#fff" stroke="#000" stroke-width="1.2"/>
<rect x="174.20" y="688.45" width="3.2" height="3.2" fill="#fff" stroke="#000" stroke-width="1.2"/>
<rect x="175.40" y="690.83" width="3.2" height="3.2" fill="#fff" stroke="#000" stroke-width="1.2"/>
<rect x="174.50" y="692.42" width="3.2" height="3.2" fill="#fff" stroke="#000" stroke-width="1.2"/>
<text x="74.90" y="706.90" font-size="9.0" text-anchor="end" transform="rotate(-45 74.90 706.90)" fill="#231f20">Prf1<tspan font-size="5.8" dy="-3.4" dx="0.4">+</tspan><tspan dy="3.4" dx="0.5"> CD4</tspan><tspan font-size="5.8" dy="-3.4" dx="0.4">+</tspan><tspan dy="3.4" dx="0.5"> T cells</tspan></text>
<text x="95.10" y="706.90" font-size="9.0" text-anchor="end" transform="rotate(-45 95.10 706.90)" fill="#231f20">IFNγ<tspan font-size="5.8" dy="-3.4" dx="0.4">+</tspan><tspan dy="3.4" dx="0.5"> CD4</tspan><tspan font-size="5.8" dy="-3.4" dx="0.4">+</tspan><tspan dy="3.4" dx="0.5"> T cells</tspan></text>
<text x="115.30" y="706.90" font-size="9.0" text-anchor="end" transform="rotate(-45 115.30 706.90)" fill="#231f20">Prf1<tspan font-size="5.8" dy="-3.4" dx="0.4">+</tspan><tspan dy="3.4" dx="0.5"> CD8</tspan><tspan font-size="5.8" dy="-3.4" dx="0.4">+</tspan><tspan dy="3.4" dx="0.5"> T cells</tspan></text>
<text x="135.50" y="706.90" font-size="9.0" text-anchor="end" transform="rotate(-45 135.50 706.90)" fill="#231f20">IFNγ<tspan font-size="5.8" dy="-3.4" dx="0.4">+</tspan><tspan dy="3.4" dx="0.5"> CD8</tspan><tspan font-size="5.8" dy="-3.4" dx="0.4">+</tspan><tspan dy="3.4" dx="0.5"> T cells</tspan></text>
<text x="155.70" y="706.90" font-size="9.0" text-anchor="end" transform="rotate(-45 155.70 706.90)" fill="#231f20">Prf1<tspan font-size="5.8" dy="-3.4" dx="0.4">+</tspan><tspan dy="3.4" dx="0.5"> NK cells</tspan></text>
<text x="175.90" y="706.90" font-size="9.0" text-anchor="end" transform="rotate(-45 175.90 706.90)" fill="#231f20">IFNγ<tspan font-size="5.8" dy="-3.4" dx="0.4">+</tspan><tspan dy="3.4" dx="0.5"> NK cells</tspan></text>
<text x="41.80" y="656.00" font-size="9.0" text-anchor="middle" transform="rotate(-90 41.80 656.00)" fill="#231f20">% of parent population</text>
<line x1="128.75" y1="675.00" x2="136.75" y2="675.00" stroke="#000" stroke-width="0.9"/>
<text x="132.70" y="676.10" font-size="9.4" text-anchor="middle" fill="#444" style="stroke:none">*</text>
<line x1="168.00" y1="678.00" x2="175.75" y2="678.00" stroke="#000" stroke-width="0.9"/>
<text x="171.90" y="679.10" font-size="9.4" text-anchor="middle" fill="#444" style="stroke:none">*</text>
<circle cx="130.00" cy="622.00" r="2.1" fill="#000"/>
<text x="135.80" y="625.20" font-size="9.0" fill="#231f20">Ctrl</text>
<rect x="128.10" y="630.60" width="3.8" height="3.8" fill="#fff" stroke="#000" stroke-width="1.1"/>
<text x="135.80" y="635.70" font-size="9.0" fill="#231f20">Ptdss1-KD_B</text>
<text x="221.50" y="612.20" font-size="15" font-weight="bold" fill="#000">N</text>
<line x1="268.50" y1="616.40" x2="268.50" y2="696.20" stroke="#000" stroke-width="1.25"/>
<line x1="268.00" y1="695.70" x2="346.30" y2="695.70" stroke="#000" stroke-width="1.25"/>
<line x1="265.50" y1="695.70" x2="268.50" y2="695.70" stroke="#000" stroke-width="1.25"/>
<text x="264.30" y="698.80" font-size="9.0" text-anchor="end" fill="#231f20">0.0</text>
<line x1="265.50" y1="679.94" x2="268.50" y2="679.94" stroke="#000" stroke-width="1.25"/>
<text x="264.30" y="683.04" font-size="9.0" text-anchor="end" fill="#231f20">0.2</text>
<line x1="265.50" y1="664.18" x2="268.50" y2="664.18" stroke="#000" stroke-width="1.25"/>
<text x="264.30" y="667.28" font-size="9.0" text-anchor="end" fill="#231f20">0.4</text>
<line x1="265.50" y1="648.42" x2="268.50" y2="648.42" stroke="#000" stroke-width="1.25"/>
<text x="264.30" y="651.52" font-size="9.0" text-anchor="end" fill="#231f20">0.6</text>
<line x1="265.50" y1="632.66" x2="268.50" y2="632.66" stroke="#000" stroke-width="1.25"/>
<text x="264.30" y="635.76" font-size="9.0" text-anchor="end" fill="#231f20">0.8</text>
<line x1="265.50" y1="616.90" x2="268.50" y2="616.90" stroke="#000" stroke-width="1.25"/>
<text x="264.30" y="620.00" font-size="9.0" text-anchor="end" fill="#231f20">1.0</text>
<line x1="275.50" y1="695.70" x2="275.50" y2="698.70" stroke="#000" stroke-width="1.25"/>
<text x="275.50" y="707.90" font-size="9.0" text-anchor="middle" fill="#231f20">0</text>
<line x1="288.12" y1="695.70" x2="288.12" y2="698.70" stroke="#000" stroke-width="1.25"/>
<text x="288.12" y="707.90" font-size="9.0" text-anchor="middle" fill="#231f20">1</text>
<line x1="300.74" y1="695.70" x2="300.74" y2="698.70" stroke="#000" stroke-width="1.25"/>
<text x="300.74" y="707.90" font-size="9.0" text-anchor="middle" fill="#231f20">2</text>
<line x1="313.36" y1="695.70" x2="313.36" y2="698.70" stroke="#000" stroke-width="1.25"/>
<text x="313.36" y="707.90" font-size="9.0" text-anchor="middle" fill="#231f20">3</text>
<line x1="325.98" y1="695.70" x2="325.98" y2="698.70" stroke="#000" stroke-width="1.25"/>
<text x="325.98" y="707.90" font-size="9.0" text-anchor="middle" fill="#231f20">4</text>
<line x1="338.60" y1="695.70" x2="338.60" y2="698.70" stroke="#000" stroke-width="1.25"/>
<text x="338.60" y="707.90" font-size="9.0" text-anchor="middle" fill="#231f20">5</text>
<text x="244.30" y="656.00" font-size="9.0" text-anchor="middle" transform="rotate(-90 244.30 656.00)" fill="#231f20">Tumor diameter (cm)</text>
<text x="238.50" y="708.20" font-size="9.0" fill="#231f20">Weeks</text>
<polyline points="275.50,695.70 288.12,662.60 300.74,657.88 313.36,650.39 325.98,654.17 338.60,657.09" fill="none" stroke="#e3263a" stroke-width="1.3" stroke-linejoin="round"/>
<polyline points="275.50,695.70 288.12,661.82 300.74,656.30 313.36,650.00 325.98,653.94 338.60,656.30" fill="none" stroke="#e3263a" stroke-width="1.3" stroke-linejoin="round"/>
<polyline points="275.50,695.70 288.12,661.03 300.74,657.09 313.36,650.78 325.98,654.33 338.60,656.69" fill="none" stroke="#e3263a" stroke-width="1.3" stroke-linejoin="round"/>
<polyline points="275.50,695.70 288.12,658.98 300.74,654.72 313.36,649.44 325.98,641.33 338.60,630.30" fill="none" stroke="#000" stroke-width="1.7" stroke-linejoin="round"/>
<polyline points="275.50,695.70 288.12,659.45 300.74,653.94 313.36,649.21 325.98,642.12 338.60,631.08" fill="none" stroke="#000" stroke-width="1.7" stroke-linejoin="round"/>
<polyline points="275.50,695.70 288.12,658.66 300.74,654.33 313.36,650.00 325.98,641.72 338.60,629.90" fill="none" stroke="#000" stroke-width="1.7" stroke-linejoin="round"/>
<line x1="288.12" y1="656.62" x2="288.12" y2="661.34" stroke="#000" stroke-width="1.5"/>
<line x1="286.82" y1="656.62" x2="289.42" y2="656.62" stroke="#000" stroke-width="1.5"/>
<line x1="286.82" y1="661.34" x2="289.42" y2="661.34" stroke="#000" stroke-width="1.5"/>
<line x1="288.12" y1="659.45" x2="288.12" y2="665.76" stroke="#000" stroke-width="1.5"/>
<line x1="286.82" y1="659.45" x2="289.42" y2="659.45" stroke="#000" stroke-width="1.5"/>
<line x1="286.82" y1="665.76" x2="289.42" y2="665.76" stroke="#000" stroke-width="1.5"/>
<line x1="300.74" y1="650.78" x2="300.74" y2="658.66" stroke="#000" stroke-width="1.5"/>
<line x1="299.44" y1="650.78" x2="302.04" y2="650.78" stroke="#000" stroke-width="1.5"/>
<line x1="299.44" y1="658.66" x2="302.04" y2="658.66" stroke="#000" stroke-width="1.5"/>
<line x1="300.74" y1="653.94" x2="300.74" y2="661.82" stroke="#000" stroke-width="1.5"/>
<line x1="299.44" y1="653.94" x2="302.04" y2="653.94" stroke="#000" stroke-width="1.5"/>
<line x1="299.44" y1="661.82" x2="302.04" y2="661.82" stroke="#000" stroke-width="1.5"/>
<line x1="313.36" y1="643.93" x2="313.36" y2="654.96" stroke="#000" stroke-width="1.5"/>
<line x1="312.06" y1="643.93" x2="314.66" y2="643.93" stroke="#000" stroke-width="1.5"/>
<line x1="312.06" y1="654.96" x2="314.66" y2="654.96" stroke="#000" stroke-width="1.5"/>
<line x1="313.36" y1="645.66" x2="313.36" y2="655.12" stroke="#000" stroke-width="1.5"/>
<line x1="312.06" y1="645.66" x2="314.66" y2="645.66" stroke="#000" stroke-width="1.5"/>
<line x1="312.06" y1="655.12" x2="314.66" y2="655.12" stroke="#000" stroke-width="1.5"/>
<line x1="325.98" y1="634.24" x2="325.98" y2="648.42" stroke="#000" stroke-width="1.5"/>
<line x1="324.68" y1="634.24" x2="327.28" y2="634.24" stroke="#000" stroke-width="1.5"/>
<line x1="324.68" y1="648.42" x2="327.28" y2="648.42" stroke="#000" stroke-width="1.5"/>
<line x1="325.98" y1="650.23" x2="325.98" y2="658.11" stroke="#000" stroke-width="1.5"/>
<line x1="324.68" y1="650.23" x2="327.28" y2="650.23" stroke="#000" stroke-width="1.5"/>
<line x1="324.68" y1="658.11" x2="327.28" y2="658.11" stroke="#000" stroke-width="1.5"/>
<line x1="338.60" y1="622.42" x2="338.60" y2="638.18" stroke="#000" stroke-width="1.5"/>
<line x1="337.30" y1="622.42" x2="339.90" y2="622.42" stroke="#000" stroke-width="1.5"/>
<line x1="337.30" y1="638.18" x2="339.90" y2="638.18" stroke="#000" stroke-width="1.5"/>
<line x1="338.60" y1="653.94" x2="338.60" y2="660.24" stroke="#000" stroke-width="1.5"/>
<line x1="337.30" y1="653.94" x2="339.90" y2="653.94" stroke="#000" stroke-width="1.5"/>
<line x1="337.30" y1="660.24" x2="339.90" y2="660.24" stroke="#000" stroke-width="1.5"/>
<circle cx="275.50" cy="695.70" r="1.8" fill="#000"/>
<circle cx="288.12" cy="658.98" r="1.7" fill="#000"/>
<circle cx="300.74" cy="654.72" r="1.7" fill="#000"/>
<circle cx="313.36" cy="649.44" r="1.7" fill="#000"/>
<circle cx="325.98" cy="641.33" r="1.7" fill="#000"/>
<circle cx="338.60" cy="630.30" r="1.7" fill="#000"/>
<circle cx="325.98" cy="654.17" r="1.6" fill="#fff" stroke="#000" stroke-width="0.8"/>
<circle cx="338.60" cy="657.09" r="1.6" fill="#fff" stroke="#000" stroke-width="0.8"/>
<line x1="365.20" y1="621.80" x2="373.30" y2="621.80" stroke="#000" stroke-width="1"/>
<circle cx="369.20" cy="621.80" r="1.9" fill="#000"/>
<text x="378.50" y="624.40" font-size="9.0" fill="#231f20">Ctrl_IgG2</text>
<line x1="365.20" y1="632.48" x2="373.30" y2="632.48" stroke="#000" stroke-width="1"/>
<path d="M369.2 630.48 l1.7 3.3 h-3.4 z" fill="#000"/>
<text x="378.50" y="635.08" font-size="9.0" fill="#231f20">Ctrl_anti-CD8</text>
<line x1="365.20" y1="643.16" x2="373.30" y2="643.16" stroke="#000" stroke-width="1"/>
<path d="M369.2 645.16 l1.7 -3.3 h-3.4 z" fill="#000"/>
<text x="378.50" y="645.76" font-size="9.0" fill="#231f20">Ctrl_anti-NK1.1</text>
<line x1="365.20" y1="653.84" x2="373.30" y2="653.84" stroke="#e3263a" stroke-width="1"/>
<circle cx="369.20" cy="653.84" r="1.4" fill="#fff" stroke="#000" stroke-width="0.9"/>
<text x="378.50" y="656.44" font-size="9.0" fill="#231f20">Ptdss1-KD_IgG2</text>
<line x1="365.20" y1="664.52" x2="373.30" y2="664.52" stroke="#e3263a" stroke-width="1"/>
<path d="M369.2 662.52 l1.7 3.3 h-3.4 z" fill="#000"/>
<text x="378.50" y="667.12" font-size="9.0" fill="#231f20">Ptdss1-KD_anti-CD8</text>
<line x1="365.20" y1="675.20" x2="373.30" y2="675.20" stroke="#e3263a" stroke-width="1"/>
<path d="M369.2 677.20 l1.7 -3.3 h-3.4 z" fill="#000"/>
<text x="378.50" y="677.80" font-size="9.0" fill="#231f20">Ptdss1-KD_anti-NK1.1</text>
</svg>
</body></html>
